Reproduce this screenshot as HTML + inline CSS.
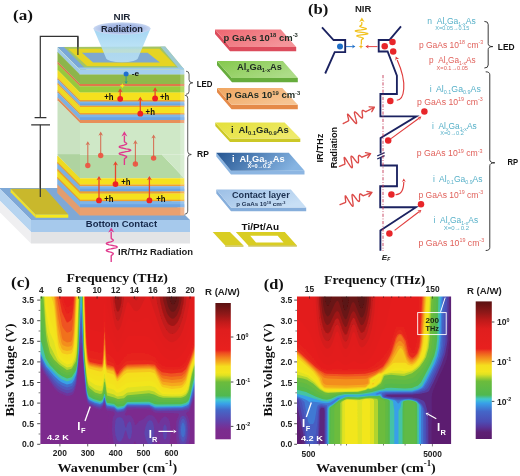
<!DOCTYPE html>
<html><head><meta charset="utf-8"><title>Figure</title><style>html,body{margin:0;padding:0;background:#fff}svg{display:block}</style></head><body><svg width="520" height="476" viewBox="0 0 520 476"><defs><linearGradient id="cone" x1="0" y1="0" x2="0" y2="1"><stop offset="0" stop-color="#9fd3f2" stop-opacity="0.95"/><stop offset="1" stop-color="#bfe6f7" stop-opacity="0.8"/></linearGradient><radialGradient id="conetop" cx="0.5" cy="0.5" r="0.5"><stop offset="0" stop-color="#9aaee0"/><stop offset="0.7" stop-color="#a9bce6"/><stop offset="1" stop-color="#c9d8f2"/></radialGradient><linearGradient id="g1" x1="0" y1="0" x2="1" y2="0.6"><stop offset="0" stop-color="#ee6670"/><stop offset="1" stop-color="#f4959a"/></linearGradient><linearGradient id="g2" x1="0" y1="0" x2="1" y2="0.6"><stop offset="0" stop-color="#84c84c"/><stop offset="1" stop-color="#addc88"/></linearGradient><linearGradient id="g3" x1="0" y1="0" x2="1" y2="0.6"><stop offset="0" stop-color="#f0a660"/><stop offset="1" stop-color="#f6c492"/></linearGradient><linearGradient id="g4" x1="0" y1="0" x2="1" y2="0.6"><stop offset="0" stop-color="#e4e03a"/><stop offset="1" stop-color="#eeea6a"/></linearGradient><linearGradient id="g5" x1="0" y1="0" x2="1" y2="0.2"><stop offset="0" stop-color="#245592"/><stop offset="1" stop-color="#86b4e2"/></linearGradient><linearGradient id="g6" x1="0" y1="0" x2="1" y2="0.6"><stop offset="0" stop-color="#9cbfe6"/><stop offset="1" stop-color="#c8dff5"/></linearGradient><filter id="soft" x="-5%" y="-5%" width="110%" height="110%"><feGaussianBlur stdDeviation="0.7"/></filter><clipPath id="cc"><rect x="40.4" y="296.4" width="154.2" height="147.6"/></clipPath><clipPath id="cd"><rect x="297" y="296.4" width="154.1" height="147.6"/></clipPath><linearGradient id="cbc" x1="0" y1="0" x2="0" y2="1"><stop offset="0.000" stop-color="#5a1212"/><stop offset="0.080" stop-color="#8e1818"/><stop offset="0.140" stop-color="#c01a1a"/><stop offset="0.200" stop-color="#e01e1e"/><stop offset="0.345" stop-color="#e8201e"/><stop offset="0.365" stop-color="#ee4a20"/><stop offset="0.400" stop-color="#f2801e"/><stop offset="0.435" stop-color="#f5b01e"/><stop offset="0.465" stop-color="#f5de1e"/><stop offset="0.510" stop-color="#f2e61e"/><stop offset="0.530" stop-color="#e0e222"/><stop offset="0.550" stop-color="#b0d42e"/><stop offset="0.580" stop-color="#6cbc3c"/><stop offset="0.680" stop-color="#50b850"/><stop offset="0.710" stop-color="#40c8d0"/><stop offset="0.740" stop-color="#38a0e8"/><stop offset="0.785" stop-color="#4468c8"/><stop offset="0.855" stop-color="#5a48b0"/><stop offset="0.900" stop-color="#70359c"/><stop offset="0.930" stop-color="#7b2c8e"/><stop offset="1.000" stop-color="#7d2a8c"/></linearGradient><linearGradient id="cbd" x1="0" y1="0" x2="0" y2="1"><stop offset="0.000" stop-color="#5a1212"/><stop offset="0.080" stop-color="#8e1818"/><stop offset="0.140" stop-color="#c01a1a"/><stop offset="0.200" stop-color="#e01e1e"/><stop offset="0.345" stop-color="#e8201e"/><stop offset="0.365" stop-color="#ee4a20"/><stop offset="0.400" stop-color="#f2801e"/><stop offset="0.435" stop-color="#f5b01e"/><stop offset="0.465" stop-color="#f5de1e"/><stop offset="0.510" stop-color="#f2e61e"/><stop offset="0.530" stop-color="#e0e222"/><stop offset="0.550" stop-color="#b0d42e"/><stop offset="0.580" stop-color="#6cbc3c"/><stop offset="0.680" stop-color="#50b850"/><stop offset="0.710" stop-color="#40c8d0"/><stop offset="0.740" stop-color="#38a0e8"/><stop offset="0.800" stop-color="#4466c8"/><stop offset="0.875" stop-color="#4c4cb4"/><stop offset="0.915" stop-color="#583498"/><stop offset="0.950" stop-color="#5e2074"/><stop offset="1.000" stop-color="#5a1c6c"/></linearGradient></defs>
<rect width="520" height="476" fill="#fff"/>
<text transform="translate(13.00,19.60) translate(0.00,0) scale(1.1065,1)" font-family="Liberation Serif, serif" font-size="15.5" font-weight="bold" fill="#111" xml:space="preserve"><tspan>(a)</tspan></text>
<path d="M40.3,197 V124.8 M40.3,117.6 V36.4 H77.9 V55" fill="none" stroke="#333" stroke-width="1.2"/>
<path d="M34.6,117.6 H46.4 M31.2,124.8 H50" fill="none" stroke="#333" stroke-width="1.3"/>
<polygon points="-1.0,188.0 158.0,188.0 190.0,220.0 31.0,220.0" fill="#7ea8d6"/>
<polygon points="-1.0,188.0 31.0,220.0 31.0,232.0 -1.0,200.0" fill="#b6d4f0"/>
<polygon points="-1.0,200.0 31.0,232.0 31.0,243.6 -1.0,211.6" fill="#efeff1"/>
<polygon points="31.0,220.0 190.0,220.0 190.0,232.0 31.0,232.0" fill="#a6c9ec"/>
<polygon points="31.0,232.0 190.0,232.0 190.0,243.6 31.0,243.6" fill="#e3e4e6"/>
<polygon points="10.6,188.8 45.2,188.8 68.3,214.4 35.6,214.4" fill="#c9b82c"/>
<polygon points="35.6,214.4 68.3,214.4 68.3,217.8 35.6,217.8" fill="#f7e81c"/>
<polygon points="10.6,188.8 35.6,214.4 35.6,217.8 10.6,192.2" fill="#efe02a"/>
<path d="M40.3,197 V150" stroke="#333" stroke-width="1.2"/>
<polygon points="80.0,70.0 80.0,74.8 57.5,52.2 57.5,47.4" fill="#a4cfee"/>
<polygon points="80.0,74.5 80.0,84.3 57.5,61.7 57.5,51.9" fill="#8fb94a"/>
<polygon points="80.0,84.0 80.0,86.6 57.5,64.0 57.5,61.4" fill="#e0784a"/>
<polygon points="80.0,86.3 80.0,92.7 57.5,70.1 57.5,63.7" fill="#9acd3c"/>
<polygon points="80.0,92.4 80.0,100.3 57.5,77.7 57.5,69.8" fill="#f5e11e"/>
<polygon points="80.0,100.0 80.0,101.9 57.5,79.3 57.5,77.4" fill="#f0a030"/>
<polygon points="80.0,101.6 80.0,105.7 57.5,83.1 57.5,79.0" fill="#7eb4e8"/>
<polygon points="80.0,105.4 80.0,107.3 57.5,84.7 57.5,82.8" fill="#f0a030"/>
<polygon points="80.0,107.0 80.0,113.2 57.5,90.6 57.5,84.4" fill="#f5e11e"/>
<polygon points="80.0,112.9 80.0,114.9 57.5,92.3 57.5,90.3" fill="#f0a030"/>
<polygon points="80.0,114.6 80.0,120.3 57.5,97.7 57.5,92.0" fill="#7eb4e8"/>
<polygon points="80.0,120.0 80.0,123.2 57.5,100.6 57.5,97.4" fill="#e8905a"/>
<polygon points="80.0,122.9 80.0,178.6 57.5,156.0 57.5,100.3" fill="#cfe8c7"/>
<polygon points="80.0,178.3 80.0,184.8 57.5,162.2 57.5,155.7" fill="#f5e11e"/>
<polygon points="80.0,184.5 80.0,186.5 57.5,163.9 57.5,161.9" fill="#f0a030"/>
<polygon points="80.0,186.2 80.0,191.6 57.5,169.0 57.5,163.6" fill="#7eb4e8"/>
<polygon points="80.0,191.3 80.0,193.7 57.5,171.1 57.5,168.7" fill="#f0a030"/>
<polygon points="80.0,193.4 80.0,200.0 57.5,177.4 57.5,170.8" fill="#f5e11e"/>
<polygon points="80.0,199.7 80.0,201.6 57.5,179.0 57.5,177.1" fill="#f0a030"/>
<polygon points="80.0,201.3 80.0,207.5 57.5,184.9 57.5,178.7" fill="#7eb4e8"/>
<polygon points="80.0,207.2 80.0,215.6 57.5,193.0 57.5,184.6" fill="#e9a070"/>
<polygon points="57.5,154.6 161.8,154.6 184.3,178.3 80.0,178.3" fill="#b4d9a4"/>
<polygon points="57.5,154.6 80.0,154.6 80.0,178.3" fill="#b4d9a4"/>
<polygon points="80.0,178.3 80.0,184.8 57.5,162.2 57.5,155.7" fill="#f5e11e"/>
<polygon points="80.0,184.5 80.0,186.5 57.5,163.9 57.5,161.9" fill="#f0a030"/>
<polygon points="80.0,186.2 80.0,191.6 57.5,169.0 57.5,163.6" fill="#7eb4e8"/>
<polygon points="80.0,191.3 80.0,193.7 57.5,171.1 57.5,168.7" fill="#f0a030"/>
<polygon points="80.0,193.4 80.0,200.0 57.5,177.4 57.5,170.8" fill="#f5e11e"/>
<polygon points="80.0,199.7 80.0,201.6 57.5,179.0 57.5,177.1" fill="#f0a030"/>
<polygon points="80.0,201.3 80.0,207.5 57.5,184.9 57.5,178.7" fill="#7eb4e8"/>
<polygon points="80.0,207.2 80.0,215.6 57.5,193.0 57.5,184.6" fill="#e9a070"/>
<polygon points="80.0,70.0 80.0,215.3 57.5,192.7 57.5,47.4" fill="#6a7a6a" opacity="0.05"/>
<polygon points="80.0,70.0 184.3,70.0 184.3,74.8 80.0,74.8" fill="#a4cfee"/>
<polygon points="80.0,74.5 184.3,74.5 184.3,84.3 80.0,84.3" fill="#8fb94a"/>
<polygon points="80.0,84.0 184.3,84.0 184.3,86.6 80.0,86.6" fill="#e0784a"/>
<polygon points="80.0,86.3 184.3,86.3 184.3,92.7 80.0,92.7" fill="#9acd3c"/>
<polygon points="80.0,92.4 184.3,92.4 184.3,100.3 80.0,100.3" fill="#f5e11e"/>
<polygon points="80.0,100.0 184.3,100.0 184.3,101.9 80.0,101.9" fill="#f0a030"/>
<polygon points="80.0,101.6 184.3,101.6 184.3,105.7 80.0,105.7" fill="#7eb4e8"/>
<polygon points="80.0,105.4 184.3,105.4 184.3,107.3 80.0,107.3" fill="#f0a030"/>
<polygon points="80.0,107.0 184.3,107.0 184.3,113.2 80.0,113.2" fill="#f5e11e"/>
<polygon points="80.0,112.9 184.3,112.9 184.3,114.9 80.0,114.9" fill="#f0a030"/>
<polygon points="80.0,114.6 184.3,114.6 184.3,120.3 80.0,120.3" fill="#7eb4e8"/>
<polygon points="80.0,120.0 184.3,120.0 184.3,123.2 80.0,123.2" fill="#e8905a"/>
<polygon points="80.0,122.9 184.3,122.9 184.3,154.6 161.8,154.6 80.0,154.6" fill="#cfe8c7"/>
<polygon points="80.0,122.9 184.3,122.9 184.3,178.3 80.0,178.3" fill="#cfe8c7" opacity="0.0"/>
<polygon points="161.8,154.6 184.3,154.6 184.3,178.3" fill="#cfe8c7"/>
<polygon points="80.0,178.3 184.3,178.3 184.3,184.8 80.0,184.8" fill="#f5e11e"/>
<polygon points="80.0,184.5 184.3,184.5 184.3,186.5 80.0,186.5" fill="#f0a030"/>
<polygon points="80.0,186.2 184.3,186.2 184.3,191.6 80.0,191.6" fill="#7eb4e8"/>
<polygon points="80.0,191.3 184.3,191.3 184.3,193.7 80.0,193.7" fill="#f0a030"/>
<polygon points="80.0,193.4 184.3,193.4 184.3,200.0 80.0,200.0" fill="#f5e11e"/>
<polygon points="80.0,199.7 184.3,199.7 184.3,201.6 80.0,201.6" fill="#f0a030"/>
<polygon points="80.0,201.3 184.3,201.3 184.3,207.5 80.0,207.5" fill="#7eb4e8"/>
<polygon points="80.0,207.2 184.3,207.2 184.3,215.6 80.0,215.6" fill="#e9a070"/>
<polygon points="80.0,103.5 184.3,103.5 184.3,105.4 80.0,105.4" fill="#5c98dc" opacity="0.55"/>
<polygon points="80.0,117.3 184.3,117.3 184.3,120.0 80.0,120.0" fill="#5c98dc" opacity="0.55"/>
<polygon points="80.0,188.8 184.3,188.8 184.3,191.3 80.0,191.3" fill="#5c98dc" opacity="0.55"/>
<polygon points="80.0,204.2 184.3,204.2 184.3,207.2 80.0,207.2" fill="#5c98dc" opacity="0.55"/>
<polygon points="180.3,70.0 184.3,70.0 184.3,215.3 180.3,215.3" fill="#ffffff" opacity="0.22"/>
<polygon points="80.0,69.6 184.3,69.6 165.2,46.6 57.5,47.0" fill="#a3c465"/>
<polygon points="80.0,69.6 86.3,69.6 64.0,47.0 57.5,47.0" fill="#79a7d8"/>
<polygon points="80.0,69.6 184.3,69.6 182.6,67.5 78.0,67.6" fill="#9ccaec"/>
<polygon points="179.6,69.6 184.3,69.6 165.2,46.6 160.4,46.6" fill="#9ccaec" opacity="0.8"/>
<polygon points="87.0,66.1 176.0,66.1 159.4,48.8 68.1,48.8" fill="#e6d422"/>
<polygon points="93.1,62.5 160.0,62.5 147.6,52.7 81.9,52.7" fill="#7fa8cf"/>
<path d="M77.9,36.4 V55" stroke="#333" stroke-width="1.2"/>
<path d="M93.5,28.5 L106,58 A16,4.2 0 0 0 138,58 L150.5,28.5 Z" fill="url(#cone)"/>
<ellipse cx="122" cy="28.5" rx="28.5" ry="6.2" fill="url(#conetop)"/>
<text transform="translate(122.00,20.40) translate(-8.50,0) scale(1.0744,1)" font-family="Liberation Sans, sans-serif" font-size="9.2" font-weight="bold" fill="#1c2433" xml:space="preserve"><tspan>NIR</tspan></text>
<text transform="translate(122.00,32.00) translate(-21.00,0) scale(1.0035,1)" font-family="Liberation Sans, sans-serif" font-size="9.2" font-weight="bold" fill="#1c2433" xml:space="preserve"><tspan>Radiation</tspan></text>
<circle cx="126.1" cy="73.9" r="2.5" fill="#1f6fd0"/>
<path d="M126.1,76.5 V82" stroke="#2a9a8a" stroke-width="0.9"/><polygon points="126.1,84.0 124.4,81.1 126.1,82.0 127.8,81.1" fill="#2a9a8a"/>
<text transform="translate(131.80,76.20) translate(0.00,0) scale(1.1096,1)" font-family="Liberation Sans, sans-serif" font-size="7.5" font-weight="bold" fill="#111" xml:space="preserve"><tspan>-e</tspan></text>
<path d="M122.3,83.2 L123.1,85 L125,85.7 L123.1,86.4 L122.3,88.2 L121.5,86.4 L119.6,85.7 L121.5,85 Z" fill="#ffe21a"/>
<g><path d="M120.2,98.8 V89.8" stroke="#e8452c" stroke-width="1.3" fill="none"/><polygon points="120.2,88.3 122.7,92.6 120.2,91.3 117.7,92.6" fill="#e8452c"/></g>
<circle cx="120.2" cy="98.8" r="2.9" fill="#ee2222"/>
<text transform="translate(104.30,99.90) translate(0.00,0) scale(0.9507,1)" font-family="Liberation Sans, sans-serif" font-size="8.2" font-weight="bold" fill="#111" xml:space="preserve"><tspan>+h</tspan></text>
<g><path d="M155.1,98.4 V88.7" stroke="#e8452c" stroke-width="1.3" fill="none"/><polygon points="155.1,87.2 157.6,91.5 155.1,90.2 152.6,91.5" fill="#e8452c"/></g>
<circle cx="155.1" cy="98.4" r="2.9" fill="#ee2222"/>
<text transform="translate(160.00,99.50) translate(0.00,0) scale(0.9507,1)" font-family="Liberation Sans, sans-serif" font-size="8.2" font-weight="bold" fill="#111" xml:space="preserve"><tspan>+h</tspan></text>
<g><path d="M140.3,113.7 V98.2" stroke="#e8452c" stroke-width="1.3" fill="none"/><polygon points="140.3,96.7 142.8,101.0 140.3,99.7 137.8,101.0" fill="#e8452c"/></g>
<circle cx="140.3" cy="113.7" r="2.9" fill="#ee2222"/>
<text transform="translate(145.60,114.80) translate(0.00,0) scale(0.9507,1)" font-family="Liberation Sans, sans-serif" font-size="8.2" font-weight="bold" fill="#111" xml:space="preserve"><tspan>+h</tspan></text>
<g opacity="0.8"><path d="M87.8,165.5 V142.7" stroke="#d8563c" stroke-width="1.1" fill="none"/><polygon points="87.8,141.2 90.1,145.3 87.8,144.0 85.5,145.3" fill="#d8563c"/></g>
<circle cx="87.8" cy="165.5" r="2.7" fill="#ee5240" opacity="0.92"/>
<g opacity="0.8"><path d="M100.7,155.5 V133.1" stroke="#d8563c" stroke-width="1.1" fill="none"/><polygon points="100.7,131.6 103.0,135.7 100.7,134.4 98.4,135.7" fill="#d8563c"/></g>
<circle cx="100.7" cy="155.5" r="2.7" fill="#ee5240" opacity="0.92"/>
<g opacity="0.8"><path d="M135.4,164 V141.6" stroke="#d8563c" stroke-width="1.1" fill="none"/><polygon points="135.4,140.1 137.7,144.2 135.4,142.9 133.1,144.2" fill="#d8563c"/></g>
<circle cx="135.4" cy="164" r="2.7" fill="#ee5240" opacity="0.92"/>
<g opacity="0.8"><path d="M153.6,158.1 V135.9" stroke="#d8563c" stroke-width="1.1" fill="none"/><polygon points="153.6,134.4 155.9,138.5 153.6,137.2 151.3,138.5" fill="#d8563c"/></g>
<circle cx="153.6" cy="158.1" r="2.7" fill="#ee5240" opacity="0.92"/>
<g><path d="M115.5,184 V162.8" stroke="#e8452c" stroke-width="1.3" fill="none"/><polygon points="115.5,161.3 118.0,165.6 115.5,164.3 113.0,165.6" fill="#e8452c"/></g>
<circle cx="115.5" cy="184.1" r="2.9" fill="#ee2222"/>
<text transform="translate(121.30,185.30) translate(0.00,0) scale(0.9507,1)" font-family="Liberation Sans, sans-serif" font-size="8.2" font-weight="bold" fill="#111" xml:space="preserve"><tspan>+h</tspan></text>
<g><path d="M99,200.4 V177.5" stroke="#e8452c" stroke-width="1.3" fill="none"/><polygon points="99.0,176.0 101.5,180.3 99.0,179.0 96.5,180.3" fill="#e8452c"/></g>
<circle cx="99" cy="200.4" r="2.9" fill="#ee2222"/>
<text transform="translate(104.30,202.00) translate(0.00,0) scale(0.9507,1)" font-family="Liberation Sans, sans-serif" font-size="8.2" font-weight="bold" fill="#111" xml:space="preserve"><tspan>+h</tspan></text>
<g><path d="M149.4,200.4 V177.5" stroke="#e8452c" stroke-width="1.3" fill="none"/><polygon points="149.4,176.0 151.9,180.3 149.4,179.0 146.9,180.3" fill="#e8452c"/></g>
<circle cx="149.4" cy="200.4" r="2.9" fill="#ee2222"/>
<text transform="translate(156.20,202.00) translate(0.00,0) scale(0.9507,1)" font-family="Liberation Sans, sans-serif" font-size="8.2" font-weight="bold" fill="#111" xml:space="preserve"><tspan>+h</tspan></text>
<path d="M124.4,165.0 L124.4,164.6 L124.4,164.3 L124.4,163.9 L124.4,163.5 L124.4,163.2 L124.4,162.8 L124.4,162.4 L124.4,162.1 L124.4,161.7 L124.4,161.3 L124.4,160.9 L124.4,160.6 L124.4,160.2 L124.4,159.8 L124.4,159.5 L124.4,159.1 L124.5,158.7 L124.9,158.4 L125.4,158.0 L126.0,157.6 L126.5,157.3 L126.7,156.9 L126.5,156.5 L126.0,156.2 L125.1,155.8 L123.9,155.4 L122.5,155.0 L121.2,154.7 L120.1,154.3 L119.4,153.9 L119.2,153.6 L119.6,153.2 L120.6,152.8 L122.1,152.5 L124.0,152.1 L126.0,151.7 L127.9,151.4 L129.4,151.0 L130.4,150.6 L130.8,150.2 L130.4,149.9 L129.4,149.5 L127.9,149.1 L126.0,148.8 L124.0,148.4 L122.1,148.0 L120.6,147.7 L119.6,147.3 L119.2,146.9 L119.4,146.6 L120.1,146.2 L121.2,145.8 L122.5,145.5 L123.9,145.1 L125.1,144.7 L126.0,144.3 L126.5,144.0 L126.7,143.6 L126.5,143.2 L126.0,142.9 L125.4,142.5 L124.9,142.1 L124.5,141.8 L124.4,141.4 L124.4,141.0 L124.4,140.7 L124.4,140.3 L124.4,139.9 L124.4,139.6 L124.4,139.2 L124.4,138.8 L124.4,138.4 L124.4,138.1 L124.4,137.7 L124.4,137.3 L124.4,137.0 L124.4,136.6 L124.4,136.2 L124.4,135.9 L124.4,135.5" fill="none" stroke="#e0388c" stroke-width="1.35" stroke-linejoin="round"/><polygon points="124.4,131.2 127.4,136.4 124.4,134.8 121.4,136.4" fill="#e0388c"/>
<path d="M186,71.2 Q189.06,71.2 189.06,74.2 V79.8 Q189.06,82.8 192.8,82.8 Q189.06,82.8 189.06,85.8 V91.3 Q189.06,94.3 186,94.3" fill="none" stroke="#333" stroke-width="0.8"/>
<path d="M184.8,95.2 Q187.72500000000002,95.2 187.72500000000002,98.2 V151.5 Q187.72500000000002,154.5 191.3,154.5 Q187.72500000000002,154.5 187.72500000000002,157.5 V211.2 Q187.72500000000002,214.2 184.8,214.2" fill="none" stroke="#333" stroke-width="0.8"/>
<text transform="translate(196.70,86.60) translate(0.00,0) scale(0.8777,1)" font-family="Liberation Sans, sans-serif" font-size="9" font-weight="bold" fill="#111" xml:space="preserve"><tspan>LED</tspan></text>
<text transform="translate(197.00,156.60) translate(0.00,0) scale(0.9438,1)" font-family="Liberation Sans, sans-serif" font-size="9" font-weight="bold" fill="#111" xml:space="preserve"><tspan>RP</tspan></text>
<text transform="translate(85.80,227.20) translate(0.00,0) scale(0.9906,1)" font-family="Liberation Sans, sans-serif" font-size="9.6" font-weight="bold" fill="#15284a" xml:space="preserve"><tspan>Bottom Contact</tspan></text>
<path d="M111.2,262.0 L111.2,261.6 L111.2,261.2 L111.2,260.9 L111.2,260.5 L111.2,260.1 L111.2,259.8 L111.2,259.4 L111.2,259.0 L111.2,258.6 L111.2,258.2 L111.2,257.9 L111.2,257.5 L111.2,257.1 L111.2,256.8 L111.2,256.4 L111.2,256.0 L111.3,255.6 L111.7,255.2 L112.2,254.9 L112.7,254.5 L113.1,254.1 L113.3,253.8 L113.2,253.4 L112.7,253.0 L111.9,252.6 L110.7,252.2 L109.5,251.9 L108.2,251.5 L107.2,251.1 L106.5,250.8 L106.3,250.4 L106.7,250.0 L107.7,249.6 L109.1,249.2 L110.8,248.9 L112.7,248.5 L114.5,248.1 L115.9,247.8 L116.9,247.4 L117.2,247.0 L116.9,246.6 L115.9,246.2 L114.5,245.9 L112.7,245.5 L110.8,245.1 L109.1,244.8 L107.7,244.4 L106.7,244.0 L106.3,243.6 L106.5,243.2 L107.2,242.9 L108.2,242.5 L109.5,242.1 L110.7,241.8 L111.9,241.4 L112.7,241.0 L113.2,240.6 L113.3,240.2 L113.1,239.9 L112.7,239.5 L112.2,239.1 L111.7,238.8 L111.3,238.4 L111.2,238.0 L111.2,237.6 L111.2,237.2 L111.2,236.9 L111.2,236.5 L111.2,236.1 L111.2,235.8 L111.2,235.4 L111.2,235.0 L111.2,234.6 L111.2,234.2 L111.2,233.9 L111.2,233.5 L111.2,233.1 L111.2,232.8 L111.2,232.4 L111.2,232.0" fill="none" stroke="#e0388c" stroke-width="1.35" stroke-linejoin="round"/><polygon points="111.2,227.4 114.2,232.6 111.2,231.0 108.2,232.6" fill="#e0388c"/>
<text transform="translate(118.00,255.40) translate(0.00,0) scale(0.9874,1)" font-family="Liberation Sans, sans-serif" font-size="9.6" font-weight="bold" fill="#222" xml:space="preserve"><tspan>IR/THz Radiation</tspan></text>
<polygon points="215.0,29.6 230.0,46.9 296.2,46.9 296.2,51.3 230.0,51.3 215.0,34.0" fill="#dc4c5c"/><polygon points="215.0,29.6 280.9,29.6 296.2,46.9 230.0,46.9" fill="url(#g1)"/>
<polygon points="217.0,60.9 232.0,77.9 297.8,77.9 297.8,82.3 232.0,82.3 217.0,65.3" fill="#66ac3c"/><polygon points="217.0,60.9 282.9,60.9 297.8,77.9 232.0,77.9" fill="url(#g2)"/>
<polygon points="217.0,87.9 231.6,104.8 297.8,104.8 297.8,109.2 231.6,109.2 217.0,92.3" fill="#e58a48"/><polygon points="217.0,87.9 282.3,87.9 297.8,104.8 231.6,104.8" fill="url(#g3)"/>
<polygon points="215.3,122.4 230.0,138.5 300.3,138.5 300.3,142.1 230.0,142.1 215.3,126.0" fill="#ccc826"/><polygon points="215.3,122.4 284.6,122.4 300.3,138.5 230.0,138.5" fill="url(#g4)"/>
<polygon points="216.3,152.8 231.0,170.7 304.5,170.7 304.5,174.5 231.0,174.5 216.3,156.6" fill="#8db6e2"/><polygon points="216.3,152.8 288.8,152.8 304.5,170.7 231.0,170.7" fill="url(#g5)"/>
<polygon points="216.3,189.6 231.0,207.4 306.2,207.4 306.2,211.2 231.0,211.2 216.3,193.4" fill="#86aedb"/><polygon points="216.3,189.6 290.9,189.6 306.2,207.4 231.0,207.4" fill="url(#g6)"/>
<text transform="translate(223.60,41.00) translate(0.00,0) scale(1.0284,1)" font-family="Liberation Sans, sans-serif" font-size="9.2" font-weight="bold" fill="#1e2a22" xml:space="preserve"><tspan>p GaAs 10</tspan><tspan font-size="5.70" dy="-3.68">18</tspan><tspan dy="3.68"> cm</tspan><tspan font-size="5.70" dy="-3.68">-3</tspan></text>
<text transform="translate(237.00,70.30) translate(0.00,0) scale(1.0074,1)" font-family="Liberation Sans, sans-serif" font-size="9.2" font-weight="bold" fill="#1e2a22" xml:space="preserve"><tspan>Al</tspan><tspan font-size="5.70" dy="2.02">x</tspan><tspan dy="-2.02">Ga</tspan><tspan font-size="5.70" dy="2.02">1-x</tspan><tspan dy="-2.02">As</tspan></text>
<text transform="translate(226.00,98.20) translate(0.00,0) scale(1.0284,1)" font-family="Liberation Sans, sans-serif" font-size="9.2" font-weight="bold" fill="#1e2a22" xml:space="preserve"><tspan>p GaAs 10</tspan><tspan font-size="5.70" dy="-3.68">19</tspan><tspan dy="3.68"> cm</tspan><tspan font-size="5.70" dy="-3.68">-3</tspan></text>
<text transform="translate(231.00,132.90) translate(0.00,0) scale(1.0263,1)" font-family="Liberation Sans, sans-serif" font-size="9.2" font-weight="bold" fill="#1e2a22" xml:space="preserve"><tspan>i  Al</tspan><tspan font-size="5.70" dy="2.02">0.1</tspan><tspan dy="-2.02">Ga</tspan><tspan font-size="5.70" dy="2.02">0.9</tspan><tspan dy="-2.02">As</tspan></text>
<text transform="translate(232.00,161.60) translate(0.00,0) scale(1.0137,1)" font-family="Liberation Sans, sans-serif" font-size="9.2" font-weight="bold" fill="#fff" xml:space="preserve"><tspan>i  Al</tspan><tspan font-size="5.70" dy="2.02">x</tspan><tspan dy="-2.02">Ga</tspan><tspan font-size="5.70" dy="2.02">1-x</tspan><tspan dy="-2.02">As</tspan></text>
<text transform="translate(247.40,168.00) translate(0.00,0)" font-family="Liberation Sans, sans-serif" font-size="5.6" font-weight="bold" fill="#fff" xml:space="preserve"><tspan>X=0→0.2</tspan></text>
<text transform="translate(232.00,198.00) translate(0.00,0) scale(0.9298,1)" font-family="Liberation Sans, sans-serif" font-size="9.8" font-weight="bold" fill="#1c3050" xml:space="preserve"><tspan>Contact layer</tspan></text>
<text transform="translate(236.30,205.80) translate(0.00,0) scale(1.1152,1)" font-family="Liberation Sans, sans-serif" font-size="5.6" font-weight="bold" fill="#1c3050" xml:space="preserve"><tspan>p GaAs 10</tspan><tspan font-size="3.47" dy="-2.24">18</tspan><tspan dy="2.24"> cm</tspan><tspan font-size="3.47" dy="-2.24">-3</tspan></text>
<text transform="translate(260.30,230.40) translate(-18.75,0) scale(1.0640,1)" font-family="Liberation Sans, sans-serif" font-size="9.4" font-weight="bold" fill="#111" xml:space="preserve"><tspan>Ti/Pt/Au</tspan></text>
<polygon points="212.7,231.9 230.0,231.9 243.5,245.6 225.2,245.6" fill="#d9cd22"/>
<polygon points="225.2,245.6 243.5,245.6 243.5,246.6 225.2,246.6" fill="#bcae18"/>
<path fill-rule="evenodd" fill="#d9cd22" d="M235.8,231.9 L284.8,231.9 L296.9,245.6 L248.3,245.6 Z M250.2,235.8 L277.7,235.8 L283.5,242.5 L256,242.5 Z"/>
<polygon points="248.3,245.6 296.9,245.6 296.9,246.6 248.3,246.6" fill="#bcae18"/>
<text transform="translate(308.00,13.80) translate(0.00,0) scale(1.0768,1)" font-family="Liberation Serif, serif" font-size="15.5" font-weight="bold" fill="#111" xml:space="preserve"><tspan>(b)</tspan></text>
<text transform="translate(363.20,12.20) translate(-8.20,0) scale(1.0806,1)" font-family="Liberation Sans, sans-serif" font-size="8.8" font-weight="bold" fill="#222" xml:space="preserve"><tspan>NIR</tspan></text>
<path d="M322,27.3 L333.6,40 H345.2 V52.1 H334.7 L325.2,73.5" fill="none" stroke="#1b2260" stroke-width="1.85" stroke-linejoin="miter"/>
<path d="M401,26.3 L389.4,40 H378.7 V51.5 H387.6 L396.9,75.6 V94 H380.4 V116.3 H416.4 L380.6,138 V153.4 M380.8,157.6 V165.5 H397 V186.2 H380.2 V207.2 H416 L380.4,230.5 V250.7" fill="none" stroke="#1b2260" stroke-width="1.85" stroke-linejoin="miter"/>
<path d="M377.2,156 L384.6,152.6 M377.2,159 L384.6,155.6" stroke="#1b2260" stroke-width="1.3"/>
<path d="M383,75 V251" stroke="#c43a58" stroke-width="0.9" stroke-dasharray="3.2,1.6,0.9,1.6" fill="none"/>
<text transform="translate(381.80,259.60) translate(0.00,0) scale(1.0901,1)" font-family="Liberation Sans, sans-serif" font-size="7.4" font-weight="bold" font-style="italic" fill="#222" xml:space="preserve"><tspan>E</tspan><tspan font-size="4.59" dy="1.63">F</tspan></text>
<circle cx="340" cy="46.6" r="3" fill="#1f6fc8"/>
<path d="M345.8,46.6 H353" stroke="#1f6fc8" stroke-width="0.9"/><polygon points="355.4,46.6 352.0,48.6 353.1,46.6 352.0,44.6" fill="#1f6fc8"/>
<path d="M361,44.2 L361.7,45.9 L363.4,46.6 L361.7,47.3 L361,49 L360.3,47.3 L358.6,46.6 L360.3,45.9 Z" fill="#f2b81a"/>
<path d="M377.5,46.6 H368" stroke="#e03030" stroke-width="0.9"/><polygon points="365.4,46.6 368.8,44.7 367.7,46.6 368.8,48.6" fill="#e03030"/>
<path d="M361.3,44.5 L361.3,44.2 L361.3,43.9 L361.3,43.7 L361.3,43.4 L361.3,43.1 L361.3,42.8 L361.3,42.5 L361.4,42.2 L361.4,42.0 L361.4,41.7 L361.4,41.4 L361.4,41.1 L361.4,40.8 L361.4,40.6 L361.4,40.3 L361.4,40.0 L361.5,39.7 L361.9,39.4 L362.4,39.2 L362.9,38.9 L363.3,38.6 L363.4,38.4 L363.1,38.1 L362.5,37.8 L361.5,37.5 L360.3,37.2 L359.0,36.9 L357.9,36.5 L357.1,36.2 L356.8,36.0 L357.0,35.7 L358.0,35.4 L359.4,35.2 L361.2,34.9 L363.3,34.7 L365.2,34.5 L366.7,34.2 L367.7,33.9 L367.9,33.7 L367.4,33.4 L366.1,33.1 L364.2,32.7 L362.0,32.4 L359.8,32.1 L357.7,31.8 L356.2,31.4 L355.4,31.1 L355.3,30.9 L356.0,30.6 L357.3,30.3 L359.1,30.1 L361.1,29.9 L363.0,29.6 L364.7,29.4 L365.8,29.1 L366.3,28.9 L366.3,28.6 L365.6,28.3 L364.6,28.0 L363.3,27.7 L362.1,27.4 L361.0,27.0 L360.2,26.7 L359.8,26.5 L359.8,26.2 L360.1,25.9 L360.5,25.6 L361.1,25.4 L361.5,25.1 L361.7,24.8 L361.7,24.5 L361.8,24.2 L361.8,24.0 L361.8,23.7 L361.8,23.4 L361.8,23.1 L361.8,22.8 L361.8,22.6 L361.8,22.3 L361.8,22.0" fill="none" stroke="#f2c21e" stroke-width="1.25" stroke-linejoin="round"/><polygon points="361.9,17.4 364.6,22.1 361.9,20.7 359.2,22.1" fill="#f2c21e"/>
<circle cx="384.7" cy="46.3" r="3.25" fill="#e8262a"/>
<circle cx="392.5" cy="42" r="3.25" fill="#e8262a"/>
<circle cx="393.2" cy="51.5" r="3.25" fill="#e8262a"/>
<circle cx="390.3" cy="101.1" r="3.25" fill="#e8262a"/>
<circle cx="424.4" cy="111.4" r="3.25" fill="#e8262a"/>
<circle cx="388.2" cy="140.4" r="3.25" fill="#e8262a"/>
<circle cx="391.4" cy="194.5" r="3.25" fill="#e8262a"/>
<circle cx="421" cy="204.3" r="3.25" fill="#e8262a"/>
<circle cx="389.4" cy="233.5" r="3.25" fill="#e8262a"/>
<path d="M396.8,100.2 C404,100 408,84 397.2,60" fill="none" stroke="#e03c3c" stroke-width="1.15"/><polygon points="395.7,56.6 399.1,59.0 396.7,58.9 395.3,60.7" fill="#e03c3c"/>
<path d="M391,138.6 L419,118.3" fill="none" stroke="#e03c3c" stroke-width="1.15"/><polygon points="421.4,116.6 419.7,120.4 419.4,118.1 417.3,117.0" fill="#e03c3c"/>
<path d="M394.6,230.4 L419,211.8" fill="none" stroke="#e03c3c" stroke-width="1.15"/><polygon points="421.4,210.0 419.8,213.8 419.4,211.5 417.3,210.5" fill="#e03c3c"/>
<path d="M395.6,194.6 C401,195 403.6,190 403.8,182" fill="none" stroke="#e03c3c" stroke-width="1.15"/><polygon points="403.8,178.6 405.8,182.0 403.8,180.9 401.9,182.0" fill="#e03c3c"/>
<path d="M343.2,123.6 L343.5,123.4 L343.9,123.2 L344.2,123.1 L344.6,122.9 L344.9,122.7 L345.3,122.5 L345.6,122.3 L346.0,122.1 L346.3,122.0 L346.7,121.8 L347.0,121.6 L347.4,121.4 L347.7,121.2 L348.1,121.0 L348.4,120.9 L348.7,120.5 L348.6,119.6 L348.3,118.1 L347.9,116.5 L347.6,115.1 L347.5,114.1 L348.0,114.3 L349.1,115.5 L350.3,117.0 L351.7,118.7 L353.0,120.3 L354.2,121.8 L355.2,122.9 L356.0,123.5 L356.4,123.6 L356.6,123.1 L356.6,122.1 L356.3,120.8 L355.9,119.1 L355.4,117.4 L355.0,115.7 L354.6,114.2 L354.4,113.0 L354.5,112.2 L354.7,111.9 L355.2,112.0 L356.0,112.5 L356.8,113.3 L357.8,114.3 L358.8,115.4 L359.8,116.4 L360.7,117.2 L361.4,117.8 L362.0,118.0 L362.3,117.9 L362.5,117.4 L362.6,116.7 L362.5,115.7 L362.4,114.6 L362.2,113.5 L362.1,112.4 L362.1,111.5 L362.2,110.9 L362.4,110.4 L362.7,110.3 L363.2,110.3 L363.8,110.6 L364.4,111.0 L365.1,111.4 L365.7,111.8 L366.1,111.6 L366.4,111.4 L366.8,111.2 L367.1,111.0 L367.5,110.8 L367.8,110.7 L368.2,110.5 L368.5,110.3 L368.9,110.1 L369.2,109.9 L369.5,109.8 L369.9,109.6 L370.2,109.4 L370.6,109.2 L370.9,109.0 L371.3,108.8 L371.6,108.7 L372.0,108.5 L372.3,108.3 L372.7,108.1 L373.0,107.9 L373.4,107.7 L373.7,107.6 L374.1,107.4 L374.4,107.2 M371.8,111.7 L374.4,107.2 L369.2,106.8" fill="none" stroke="#dc4a48" stroke-width="1.35" stroke-linejoin="round" stroke-linecap="round"/>
<path d="M339.4,166.4 L339.7,166.3 L340.1,166.1 L340.4,166.0 L340.8,165.8 L341.1,165.7 L341.5,165.5 L341.8,165.4 L342.2,165.3 L342.5,165.1 L342.9,165.0 L343.2,164.8 L343.6,164.7 L343.9,164.6 L344.3,164.4 L344.6,164.3 L344.9,163.9 L344.9,163.0 L344.7,161.6 L344.4,159.9 L344.2,158.5 L344.2,157.5 L344.8,157.7 L345.7,159.0 L346.8,160.6 L347.9,162.5 L349.0,164.2 L350.1,165.8 L351.0,167.0 L351.7,167.7 L352.1,167.8 L352.3,167.4 L352.4,166.4 L352.2,165.0 L351.9,163.4 L351.6,161.6 L351.3,159.9 L351.1,158.3 L351.0,157.1 L351.1,156.4 L351.4,156.1 L351.8,156.3 L352.5,156.8 L353.3,157.7 L354.1,158.8 L355.0,160.0 L355.9,161.1 L356.6,162.0 L357.3,162.7 L357.8,162.9 L358.2,162.9 L358.4,162.4 L358.5,161.7 L358.5,160.7 L358.5,159.6 L358.4,158.5 L358.4,157.4 L358.4,156.5 L358.6,155.9 L358.8,155.5 L359.2,155.3 L359.6,155.5 L360.2,155.8 L360.7,156.2 L361.4,156.8 L361.9,157.2 L362.3,157.0 L362.6,156.9 L363.0,156.7 L363.3,156.6 L363.7,156.4 L364.0,156.3 L364.4,156.2 L364.7,156.0 L365.1,155.9 L365.4,155.7 L365.7,155.6 L366.1,155.4 L366.4,155.3 L366.8,155.2 L367.1,155.0 L367.5,154.9 L367.8,154.7 L368.2,154.6 L368.5,154.5 L368.9,154.3 L369.2,154.2 L369.6,154.0 L369.9,153.9 L370.3,153.7 L370.6,153.6 M367.6,157.8 L370.6,153.6 L365.5,152.7" fill="none" stroke="#dc4a48" stroke-width="1.35" stroke-linejoin="round" stroke-linecap="round"/>
<path d="M340.0,204.6 L340.4,204.5 L340.7,204.3 L341.1,204.2 L341.4,204.1 L341.8,203.9 L342.1,203.8 L342.5,203.7 L342.8,203.5 L343.2,203.4 L343.6,203.2 L343.9,203.1 L344.3,203.0 L344.6,202.8 L345.0,202.7 L345.3,202.6 L345.6,202.3 L345.7,201.3 L345.5,199.9 L345.3,198.2 L345.2,196.7 L345.2,195.8 L345.7,196.0 L346.6,197.3 L347.6,199.0 L348.7,200.8 L349.8,202.6 L350.8,204.2 L351.7,205.4 L352.4,206.1 L352.8,206.3 L353.1,205.8 L353.1,204.9 L353.0,203.5 L352.8,201.8 L352.5,200.0 L352.3,198.3 L352.1,196.8 L352.0,195.6 L352.1,194.8 L352.4,194.5 L352.9,194.7 L353.5,195.3 L354.3,196.2 L355.1,197.3 L356.0,198.5 L356.8,199.6 L357.6,200.6 L358.3,201.2 L358.8,201.5 L359.2,201.4 L359.4,201.0 L359.5,200.3 L359.6,199.3 L359.5,198.2 L359.5,197.0 L359.5,196.0 L359.6,195.1 L359.7,194.4 L360.0,194.0 L360.4,193.9 L360.8,194.0 L361.4,194.4 L361.9,194.9 L362.6,195.4 L363.1,195.8 L363.5,195.7 L363.8,195.5 L364.2,195.4 L364.5,195.2 L364.9,195.1 L365.2,195.0 L365.6,194.8 L366.0,194.7 L366.3,194.6 L366.7,194.4 L367.0,194.3 L367.4,194.2 L367.7,194.0 L368.1,193.9 L368.4,193.8 L368.8,193.6 L369.2,193.5 L369.5,193.3 L369.9,193.2 L370.2,193.1 L370.6,192.9 L370.9,192.8 L371.3,192.7 L371.6,192.5 L372.0,192.4 M368.9,196.5 L372.0,192.4 L366.9,191.4" fill="none" stroke="#dc4a48" stroke-width="1.35" stroke-linejoin="round" stroke-linecap="round"/>
<text transform="translate(323.20,148.00) rotate(-90) translate(-14.50,0) scale(1.0579,1)" font-family="Liberation Sans, sans-serif" font-size="8.8" font-weight="bold" fill="#111" xml:space="preserve"><tspan>IR/THz</tspan></text>
<text transform="translate(337.20,147.50) rotate(-90) translate(-20.75,0) scale(1.0337,1)" font-family="Liberation Sans, sans-serif" font-size="8.8" font-weight="bold" fill="#111" xml:space="preserve"><tspan>Radiation</tspan></text>
<text transform="translate(427.20,24.00) translate(0.00,0) scale(0.9100,1)" font-family="Liberation Sans, sans-serif" font-size="9.4" fill="#56b0c8" xml:space="preserve"><tspan>n  </tspan><tspan>Al</tspan><tspan font-size="5.83" dy="2.07">x</tspan><tspan dy="-2.07">Ga</tspan><tspan font-size="5.83" dy="2.07">1-x</tspan><tspan dy="-2.07">As</tspan></text>
<text transform="translate(435.30,30.30) translate(0.00,0) scale(1.0669,1)" font-family="Liberation Sans, sans-serif" font-size="5.2" fill="#56b0c8" xml:space="preserve"><tspan>X=0.05→0.15</tspan></text>
<text transform="translate(418.90,47.90) translate(0.00,0) scale(0.9052,1)" font-family="Liberation Sans, sans-serif" font-size="9.4" fill="#e0605a" xml:space="preserve"><tspan>p GaAs 10</tspan><tspan font-size="5.83" dy="-3.76">18</tspan><tspan dy="3.76"> cm</tspan><tspan font-size="5.83" dy="-3.76">-3</tspan></text>
<text transform="translate(429.00,63.00) translate(0.00,0) scale(0.8762,1)" font-family="Liberation Sans, sans-serif" font-size="9.4" fill="#e0605a" xml:space="preserve"><tspan>p  </tspan><tspan>Al</tspan><tspan font-size="5.83" dy="2.07">x</tspan><tspan dy="-2.07">Ga</tspan><tspan font-size="5.83" dy="2.07">1-x</tspan><tspan dy="-2.07">As</tspan></text>
<text transform="translate(436.60,70.00) translate(0.00,0) scale(1.0834,1)" font-family="Liberation Sans, sans-serif" font-size="5.2" fill="#e0605a" xml:space="preserve"><tspan>X=0.1→0.05</tspan></text>
<text transform="translate(429.70,92.00) translate(0.00,0) scale(0.9321,1)" font-family="Liberation Sans, sans-serif" font-size="9.4" fill="#56b0c8" xml:space="preserve"><tspan>i  Al</tspan><tspan font-size="5.83" dy="2.07">0.1</tspan><tspan dy="-2.07">Ga</tspan><tspan font-size="5.83" dy="2.07">0.9</tspan><tspan dy="-2.07">As</tspan></text>
<text transform="translate(417.00,104.60) translate(0.00,0) scale(0.9249,1)" font-family="Liberation Sans, sans-serif" font-size="9.4" fill="#e0605a" xml:space="preserve"><tspan>p GaAs 10</tspan><tspan font-size="5.83" dy="-3.76">19</tspan><tspan dy="3.76"> cm</tspan><tspan font-size="5.83" dy="-3.76">-3</tspan></text>
<text transform="translate(432.00,128.50) translate(0.00,0) scale(0.8910,1)" font-family="Liberation Sans, sans-serif" font-size="9.4" fill="#56b0c8" xml:space="preserve"><tspan>i  </tspan><tspan>Al</tspan><tspan font-size="5.83" dy="2.07">x</tspan><tspan dy="-2.07">Ga</tspan><tspan font-size="5.83" dy="2.07">1-x</tspan><tspan dy="-2.07">As</tspan></text>
<text transform="translate(440.30,135.20) translate(0.00,0) scale(1.0839,1)" font-family="Liberation Sans, sans-serif" font-size="5.2" fill="#56b0c8" xml:space="preserve"><tspan>X=0→0.2</tspan></text>
<text transform="translate(416.80,156.40) translate(0.00,0) scale(0.9235,1)" font-family="Liberation Sans, sans-serif" font-size="9.4" fill="#e0605a" xml:space="preserve"><tspan>p GaAs 10</tspan><tspan font-size="5.83" dy="-3.76">19</tspan><tspan dy="3.76"> cm</tspan><tspan font-size="5.83" dy="-3.76">-3</tspan></text>
<text transform="translate(433.00,182.30) translate(0.00,0) scale(0.9028,1)" font-family="Liberation Sans, sans-serif" font-size="9.4" fill="#56b0c8" xml:space="preserve"><tspan>i  Al</tspan><tspan font-size="5.83" dy="2.07">0.1</tspan><tspan dy="-2.07">Ga</tspan><tspan font-size="5.83" dy="2.07">0.9</tspan><tspan dy="-2.07">As</tspan></text>
<text transform="translate(418.50,198.00) translate(0.00,0) scale(0.9081,1)" font-family="Liberation Sans, sans-serif" font-size="9.4" fill="#e0605a" xml:space="preserve"><tspan>p GaAs 10</tspan><tspan font-size="5.83" dy="-3.76">19</tspan><tspan dy="3.76"> cm</tspan><tspan font-size="5.83" dy="-3.76">-3</tspan></text>
<text transform="translate(433.60,222.60) translate(0.00,0) scale(0.8870,1)" font-family="Liberation Sans, sans-serif" font-size="9.4" fill="#56b0c8" xml:space="preserve"><tspan>i  </tspan><tspan>Al</tspan><tspan font-size="5.83" dy="2.07">x</tspan><tspan dy="-2.07">Ga</tspan><tspan font-size="5.83" dy="2.07">1-x</tspan><tspan dy="-2.07">As</tspan></text>
<text transform="translate(443.70,230.30) translate(0.00,0) scale(1.1620,1)" font-family="Liberation Sans, sans-serif" font-size="5.2" fill="#56b0c8" xml:space="preserve"><tspan>X=0→0.2</tspan></text>
<text transform="translate(418.50,245.50) translate(0.00,0) scale(0.9221,1)" font-family="Liberation Sans, sans-serif" font-size="9.4" fill="#e0605a" xml:space="preserve"><tspan>p GaAs 10</tspan><tspan font-size="5.83" dy="-3.76">19</tspan><tspan dy="3.76"> cm</tspan><tspan font-size="5.83" dy="-3.76">-3</tspan></text>
<path d="M484.4,21.4 Q488.17999999999995,21.4 488.17999999999995,24.4 V43.6 Q488.17999999999995,46.6 492.79999999999995,46.6 Q488.17999999999995,46.6 488.17999999999995,49.6 V65 Q488.17999999999995,68 484.4,68" fill="none" stroke="#222" stroke-width="0.9"/>
<path d="M485.7,71.8 Q489.795,71.8 489.795,74.8 V159.8 Q489.795,162.8 494.8,162.8 Q489.795,162.8 489.795,165.8 V247.5 Q489.795,250.5 485.7,250.5" fill="none" stroke="#222" stroke-width="0.9"/>
<text transform="translate(497.80,49.70) translate(0.00,0) scale(0.9388,1)" font-family="Liberation Sans, sans-serif" font-size="9" font-weight="bold" fill="#111" xml:space="preserve"><tspan>LED</tspan></text>
<text transform="translate(507.60,164.50) translate(0.00,0) scale(0.8478,1)" font-family="Liberation Sans, sans-serif" font-size="9" font-weight="bold" fill="#111" xml:space="preserve"><tspan>RP</tspan></text>
<g clip-path="url(#cc)"><g filter="url(#soft)"><rect x="36.0" y="292.0" width="163.0" height="156.0" fill="#7c2b8d"/>
<path fill="#7b2c8e" d="M37,292l162,0 0,101.6 -2,0.5 -2,3.9 -4.3,14 0.3,1.3 2,2 6,0.1 0,32.6 -89.9,0 -1.2,-16 0.2,-18 -2.1,-1.5 -1,-3.9 -1,-1.3 -0.6,1.7 -1.4,1.6 -2,1.3 -1,-0.1 -4,-1.2 -6,-3.1 -1.3,-1.5 -1.2,-3 -1.1,-5 -0.9,-8 -2.5,-32.4 -1,-6 -1,3.7 -1.4,17.7 -1.9,15 -2.3,7 -2.4,2.5 -5,1 -9,-3.9 -5.3,-5.6 -7.3,-11 -5.4,-9.4 -2,-1.8 -2,-0.2 0,-74.6z"/>
<path fill="#70359c" d="M37,292l162,0 0,99.1 -2,0.5 -1,1.5 -2,4.4 -4,11.8 -1,1.8 -2.9,1.9 0.1,1 2.6,5 1.2,8 -0.4,12 -1.9,9 -9.4,0 -0.6,-2 -1.3,-7 -0.5,-9 0.6,-9 2.4,-6 0.1,-1 -1,-0.8 -21,-0.4 -2,-0.3 -5,-2.9 -13,-0.4 -10,0.6 -2.2,4.2 0.2,1.1 1,0.6 3,-0.6 2,0.8 2.1,3.1 1.9,5.8 1,0.1 3,-3.6 4,-1.7 4,-3.6 2,-1.1 3,0.4 2.3,1.7 2.3,3 1.4,3.4 1,0.2 2.3,-4.6 2.7,-2.2 2,0 2,1.5 1.8,3.7 0.9,10 -0.9,10 -1.7,6 -6.4,0 -2.7,-7.4 -1,0.2 -2.2,7.2 -16.8,0 -1.5,-2 -2.5,-4.8 -1,1.3 -2.1,5.5 -16.4,0 -2.4,-8 -1.1,-10 0.5,-10 0.7,-3 1.8,-3 -0.3,-1 -0.7,-1.1 -1,-0.4 -6,-1.1 -1,-1.2 -1,-4.1 -1,-0.8 -2,3.7 -2,1.5 -1,-0.1 -4,-1.3 -5,-2.4 -2,-1.9 -0.8,-1.8 -1.7,-8 -3.5,-42.5 -1,-3.2 -1,2.8 -3.5,32.9 -2.5,8.7 -2,2.3 -5,1 -8,-3.4 -4,-3.5 -9,-13 -6,-10.1 -2,-1.7 -2,-0.2 0,-72.1z"/>
<path fill="#5c46ae" d="M37,292l162,0 0,96.2 -2,0.5 -1.9,3.3 -4.2,13 -1.9,3.9 -1,0.6 -6,1.3 -24,0.2 -3,-0.4 -4.6,-2.6 -1.4,-0.3 -21,-0.1 -1,0.3 -3,3.7 -6,1 -1,-0.1 -3,-2.7 -7,-1.1 -1,-1 -1,-4.6 -1,-0.5 -1,2.6 -3,2.5 -5,-1.2 -5,-2.5 -2,-1.9 -0.5,-1.1 -1.7,-8 -3.8,-45.6 -1,-5.4 -2,13.7 -1.7,19.3 -1.3,8.4 -2,6.4 -2,2.5 -5,1.1 -5,-1.9 -4,-2.2 -5,-5.4 -7,-10.2 -6,-10.4 -2,-1.7 -2,-0.2 0,-69.4zM182,415.9l2,0.1 2,2.2 1.2,3.8 0.6,6 -0.2,7 -1,6 -1.6,4 -1,1.2 -1,0.3 -1,-0.3 -1,-1.2 -1.3,-3 -1.1,-5 -0.4,-5 0.1,-6 0.7,-5 1.1,-3zM117,417.7l3,-0.6 2.1,0.9 1.8,3 1.1,5.4 1,1.6 1.2,-4 1.8,-2.6 1,0 1,1.5 0.8,4.1 0.2,5 -0.8,5 -1.2,2.3 -1,-0.2 -1,-1.5 -2,-7.3 -1,0.9 -1.6,5.8 -2.4,4.2 -2,0.6 -2,-2.1 -1.6,-4.7 -0.6,-7 0.6,-7 0.6,-2zM150,420l2,1 1,2 1,4 0.4,5 -0.3,5 -1.1,4.6 -1,2.1 -1,1.1 -1,0.3 -1.9,-1.1 -1.2,-2 -1.5,-4 -1,-5 0.8,-5 1.3,-4 1.5,-2.8zM165,424.5l1,0.9 0.6,1.6 0.6,5 -0.6,5 -0.6,1.8 -1,0.9 -1,-0.8 -0.7,-1.9 -0.6,-5 0.7,-5 0.6,-1.7z"/>
<path fill="#4f58bc" d="M37,292l162,0 0,92.6 -2,0.5 -2,3.8 -4.2,14.1 -1.8,4.2 -1.2,0.8 -5.8,1.5 -24,0.3 -3,-0.4 -4.4,-2.4 -1.6,-0.4 -21,-0.1 -1,0.3 -3,3.5 -3,0.9 -3,0.2 -1,-0.2 -3,-2.5 -7,-1.1 -1,-1.2 -1,-5 -1,-0.3 -1,2.9 -1,1.2 -2,1.3 -5,-1.3 -5,-2.4 -2,-2 -0.6,-1.8 -1.7,-9 -2.4,-28 -1.3,-23.3 -1,-8.4 -3.5,39.7 -1.5,10.5 -1,3.7 -1,2.4 -2,2.5 -4,1.2 -2,-0.2 -3,-1.2 -5,-2.8 -4,-4 -8,-10.8 -6,-11.2 -2,-1.7 -2,-0.2 0,-66.2zM183,418.7l1,0.4 1.5,2.9 1,8 -1,8 -1.3,3 -1.2,0.9 -1.2,-0.9 -1.3,-3 -1,-8 1,-8 1.5,-2.9zM150,428.3l1,1.4 0.2,2.3 -0.2,2.4 -1,1.5 -1,-1.2 -0.3,-2.7 0.3,-2.5z"/>
<path fill="#436ecc" d="M37,292l162,0 0,89 -2,0.5 -2,4 -4.6,16.5 -1.4,3.5 -2,1.4 -5,1.4 -24,0.4 -3,-0.3 -6,-2.8 -21,-0.1 -1,0.3 -3,3.5 -3,0.9 -3,0.2 -1,-0.2 -3,-2.5 -7,-1.1 -1,-1.5 -1,-5.3 -1,-0.2 -1,3.3 -1,1.2 -2,1.2 -5,-1.3 -5.8,-3 -1.2,-1.5 -1,-3.3 -1.3,-9.2 -2.2,-26 -1.5,-32.6 -1,-9.9 -2.9,43.5 -1.1,9.8 -2,9.3 -3,4.9 -5,1.4 -5,-1.9 -4,-2.6 -4,-4 -8,-10 -6,-11.9 -2,-1.8 -2,-0.2 0,-63zM183,422.6l1,0.9 0.5,1.5 0.7,5 -0.6,5 -0.6,1.6 -1,0.9 -1,-0.9 -0.6,-1.6 -0.6,-5 0.7,-5 0.5,-1.6z"/>
<path fill="#38a0e8" d="M37,292l162,0 0,85.4 -2,0.5 -2,4.2 -6,21.8 -2,1.6 -5,1.7 -24,0.4 -3,-0.2 -6,-2.7 -21,-0.2 -1,0.3 -3,3.5 -3,0.9 -3,0.2 -1,-0.2 -3,-2.5 -7,-1.1 -1,-1.8 -1,-5.7 -1,-0.1 -1,3.7 -1,1.4 -2,1 -5,-1.3 -4,-1.7 -2,-1.4 -1,-1.5 -1.1,-4.2 -2.1,-20 -1.5,-19 -1.3,-37.1 -1,-11.3 -2.8,51.4 -1.2,11.6 -1,5.5 -2,4.9 -2,2.9 -1,0.5 -4,1 -5,-2 -3,-1.9 -5,-4.7 -8,-9.4 -6,-12.6 -2,-1.8 -2,-0.2 0,-59.8z"/>
<path fill="#45c3a5" d="M37,292l162,0 0,81.8 -2,0.6 -2,4.2 -6,23.5 -1,1.2 -2,1.2 -5,1.5 -25,0.4 -7,-2.8 -21,-0.2 -1,0.3 -3,3.4 -3,1 -3,0.3 -1,-0.3 -3,-2.5 -7,-1.2 -1,-2.4 -1,-5.8 -1,0 -1,4.1 -1,1.6 -2,0.9 -6.3,-1.8 -3.7,-1.7 -1,-0.9 -1,-1.7 -1,-4.1 -3.1,-31.6 -1.9,-54.8 -1,-12.2 -2.6,58 -1.4,15.3 -1,5.2 -3,5.9 -2,1.9 -4,1.1 -5,-2 -2.1,-1.4 -2.9,-2.4 -10,-10.4 -3,-5 -4,-9.7 -2,-1.7 -2,-0.2 0,-56.6z"/>
<path fill="#56b94c" d="M37,292l43.5,0 -2.1,55 -1.4,17.9 -1,5 -1,2.2 -3,4.7 -1,0.6 -4,1 -5,-2.1 -4,-2.9 -8.1,-8.4 -4.3,-7 -3.6,-13.8 -2,-5.7 -2,-2.2 -2,-0.2 0,-44.1zM82,292l117,0 0,78.4 -2,0.5 -2,4.3 -2,6.7 -3,14.2 -1,3.5 -1,1.6 -2.5,1.8 -4.5,1.3 -23,0.3 -3,-0.3 -6,-2.5 -21,0.1 -1,0.3 -3,3.3 -1,0.5 -5,0.7 -1,-0.2 -3,-2.4 -7,-1.3 -1,-2.7 -1,-6.1 -1,0.2 -1,4.4 -1,1.7 -2,0.8 -6.7,-2.1 -4.3,-2.6 -1,-1.8 -1,-4.4 -3.1,-32.2z"/>
<path fill="#61ba44" d="M37,292l42.9,0 -1.7,54 -1.2,16.4 -1,4.9 -4,6.7 -1,0.6 -4,1 -6,-3.1 -7.2,-6.5 -3.8,-4.8 -1.5,-3.2 -2.7,-8 -2.8,-20.6 -2,-9 -2,-4.8 -1,-1.1 -2,-0.3 0,-22.2zM83,292l116,0 0,75.2 -2,0.5 -2,4 -2,6.4 -4,18.4 -2.5,3.5 -4.5,2.1 -10,0.2 -14,-0.3 -9,-3 -21,0.8 -1,0.3 -3,3.1 -3,0.8 -3,0.2 -1,-0.1 -3,-2.2 -7,-1.4 -1,-2.5 -1,-7.3 -1,0.7 -1,5.1 -1,1.6 -2,0.7 -5,-1.4 -6,-3.8 -1,-1.8 -1,-4.4 -3,-31.4 -1.7,-63 0,-1z"/>
<path fill="#6cbc3c" d="M37,292l42.5,0 -1.5,52.6 -1,14.7 -1,5.3 -4,6.5 -1,0.7 -4,1 -5,-2.8 -7,-6 -5,-6.7 -2.7,-8.3 -1.3,-5.8 -3,-32.1 -1,-6.6 -2,-8.3 -2,-3.6 -2,-0.5zM83,292l116,0 0,72 -2,0.5 -2.7,5.5 -2,7 -3.3,16.3 -1,2.2 -2,2.6 -5,1.9 -18,0 -5,-0.7 -8,-3.1 -4,0.1 -18,1.3 -1,0.3 -3,2.9 -6,0.9 -1,-0.1 -3,-1.8 -7,-1.7 -1,-2.6 -1,-8.9 -1,1 -1,6.7 -1,1.6 -1,0.3 -2,0 -4,-1.3 -6,-4.3 -1,-1.7 -1,-4.7 -3,-32.5 -1.1,-42.7 -0.3,-17z"/>
<path fill="#b0d42e" d="M44,292l35.1,0 -1.1,41.3 -1,19.9 -1,8.1 -4,6.9 -1.2,0.8 -3.8,0.9 -7.3,-4.9 -5.7,-5.5 -4,-6.4 -3,-12.4 -1,-7 -3,-41.7zM83,292l116,0 0,68.8 -2,0.4 -3,6.1 -2.2,7.7 -2.8,14.6 -1,2.8 -2,3.2 -2.4,1.4 -2.6,0.7 -18,0 -4,-0.9 -5,-2.4 -5,-1.2 -21,2.1 -1,0.3 -3,2.7 -6,0.8 -4,-1.7 -7,-1.8 -2,-14.1 -1,1.2 -1,7.9 -1,2.9 -2,0.4 -5,-1.5 -5.6,-4.4 -1.4,-2.5 -1,-5.4 -2,-19.8 -1,-16.9z"/>
<path fill="#e0e222" d="M44,292l34.7,0 -1.7,55 -1,9.2 -1,3.8 -3,6 -1,0.7 -4,0.9 -5,-3.1 -3,-2.5 -1.7,-2 -7.3,-14.2 -3,-13.6 -1,-8.1zM84,292l115,0 0,67 -2,0.4 -3,6 -2.3,7.6 -2.7,13.8 -1,3.2 -2,3.8 -3,1.8 -2,0.6 -9,0.3 -9,-0.4 -4,-1.4 -5,-3.3 -5,-1.1 -21,2.2 -1,0.2 -4,3 -6,0.8 -3,-1.9 -7,-2.2 -2,-14.1 -1,1 -1,8.2 -1,3.1 -2,0.4 -5,-1.5 -6,-4.6 -1,-2.2 -1,-5.3 -1,-8.8 -1.9,-28.6 -1,-48z"/>
<path fill="#f2e61e" d="M45,292l33.4,0 -0.4,19 -1.8,34 -2.1,13 -2.1,4.8 -1,0.7 -4,0.9 -4,-2.1 -4,-3.9 -1.3,-2.4 -3.7,-14.6 -4,-8.6 -1.5,-6.8 -2.5,-15.3 -1.3,-17.7 0,-1zM84,292l115,0 0,65 -2,0.5 -3,5.9 -2.4,7.6 -2.8,13 -1.8,5.1 -1.9,2.9 -2.1,1.5 -2,0.7 -9,0.4 -9,-0.7 -1,-0.2 -2.3,-1.7 -4.7,-4.7 -4,-1.4 -2,-0.2 -21,1.8 -1,0.2 -3,2.4 -3,1.6 -4,1 -3,-3 -7,-2.2 -1,-4.3 -1,-9.4 -1,1.3 -1,8.2 -1,2.5 -2,0.3 -5,-1.4 -6,-3.9 -1,-1.8 -1,-5 -2,-20.8 -1,-22.5 -0.8,-37.7 0,-1z"/>
<path fill="#f3e21e" d="M46,292l32,0 -1.1,32 -1.5,20 -1.6,11 -1.8,4.5 -1,0.7 -4,0.9 -4,-1.7 -2.5,-2.4 -2.5,-4.2 -4,-23.1 -4,-9.9 -1,-4.8 -3,-18.6 -0.3,-4.4zM84,292l115,0 0,63 -2,0.5 -3,5.9 -2.5,7.6 -3.8,15 -1.7,4.4 -1,1.2 -3,2.3 -1,0.3 -9,0.5 -9,-1 -1,-0.3 -1.5,-1.4 -5.5,-7.2 -4,-1.5 -2,-0.2 -22,1.6 -7,5.1 -3,1.1 -3,-4.1 -7,-2.2 -1,-3.9 -1,-10.2 -1,1.1 -1,9 -1,2.4 -2,0.2 -5,-1.3 -6,-3.2 -1,-1.7 -1,-4.9 -1.8,-19.1 -1.5,-42 -0.3,-17z"/>
<path fill="#f5df1e" d="M48,292l29.5,0 -1.1,29 -1.8,25 -1.6,8.1 -1,2.2 -1,0.7 -4,0.8 -5,-1.9 -3,-4.6 -0.9,-2.3 -4.1,-31.1 -1,-3.7 -3,-7.5 -2.5,-13.7 -0.1,-1zM84,292l115,0 0,61 -2,0.5 -3,5.9 -2.7,7.6 -4,15 -1.3,3.6 -1,1.5 -3,2.8 -1,0.2 -9,0.7 -9,-1.3 -2,-1.6 -6,-9.6 -2,-1 -4,-0.9 -22,1.3 -7.7,6.3 -2.3,1 -3,-5.1 -1,-0.6 -6,-1.7 -1,-4 -1,-9.4 -1,1.2 -1,8.3 -1,2.5 -2,0.1 -5,-1.1 -6,-2.6 -1,-1.6 -1,-4.8 -1.7,-17.2 -1.3,-33.9 -0.5,-23.1z"/>
<path fill="#f5c71e" d="M50,292l27,0 -1.3,31 -1.6,22 -1.1,5.6 -1,2.4 -1,0.8 -4,0.7 -4,-0.9 -1,-0.6 -3,-5.3 -1,-3.7 -4,-37.6 -1,-4.6 -3,-8.1zM84,292l115,0 0,59 -2,0.5 -2,3.6 -4,10.5 -5,17.3 -3,3.9 -2,1.3 -9,0.8 -9,-1.6 -1,-0.5 -1.2,-1.8 -5.8,-11.2 -1,-0.8 -4,-1.1 -23,0.8 -3,2 -6,6.3 -1,0.2 -3,-6.1 -1,-0.8 -6,-1.7 -1.5,-5.6 -0.5,-8.2 -1,2.2 -1,8.3 -1,2 -2,0.1 -4,-0.8 -7,-2.1 -1,-1.5 -1,-4.2 -1.5,-14.8 -1.5,-39z"/>
<path fill="#f5a91e" d="M53,292l23.6,0 -2.6,47.6 -1,6.8 -1,2.9 -1,0.9 -4,0.7 -4,-1 -1.6,-1.9 -2.3,-6 -1.1,-5.3 -4,-39.5zM84,292l115,0 0,57 -2,0.5 -2,3.6 -5,13.4 -4,13.5 -3,4.2 -2,1.3 -9,0.8 -9,-1.6 -1,-0.6 -1,-1.5 -6,-11.7 -1,-0.8 -4,-1 -23,0.6 -3,2 -5.4,6.3 -1.6,0.9 -3.2,-6.9 -0.8,-0.7 -6,-1.6 -1,-1.7 -1,-14.1 -1,2.8 -0.9,10.3 -1.1,1.6 -3,-0.1 -6,-1.2 -4,-1.3 -1,-1.3 -0.9,-3.7 -1.4,-14z"/>
<path fill="#f38e1e" d="M55,292l21.2,0 -2.2,40.8 -1.4,10.2 -0.6,2.1 -1,1.1 -3,0.6 -2,-0.2 -3,-1.4 -1,-1.1 -0.7,-2.1 -3.3,-14.9 -3.9,-35.1zM85,292l114,0 0,55 -2,0.5 -2,3.6 -5,13.6 -4,12.5 -1,1.7 -3,3.1 -1,0.3 -9,0.8 -9,-1.4 -1,-0.5 -1,-1.4 -6,-10.5 -1,-0.6 -5,-1 -22,0.7 -3,1.9 -6,7 -1,0.4 -3,-6.9 -1,-0.8 -6,-1.6 -0.7,-1.4 -0.6,-3 -0.7,-15 -1,3.4 -0.8,12.6 -0.2,1.2 -1,1.3 -3,-0.2 -8,-1.6 -2,-1.1 -1,-1.7 -1,-4.9 -1.3,-16 -1.7,-50z"/>
<path fill="#f1711f" d="M55,292l20.7,0 -1.7,31.7 -1,10.2 -1,5.7 -1,2.2 -4,0.7 -4,-2.3 -1,-2.1 -4,-21.3zM85,292l114,0 0,53 -2,0.5 -2,3.7 -8,22.6 -2,4.2 -3,2.8 -1,0.3 -9,0.8 -9,-1.3 -2,-1.5 -6,-9.3 -5,-1.3 -4,0 -19,0.7 -3,1.9 -6,7.1 -1,0.4 -3,-7 -1,-0.8 -6,-1.6 -0.6,-1.2 -0.5,-2 -0.9,-20 -1,2.8 -0.9,17.2 -0.8,2 -0.3,0.5 -2,0 -10,-2.2 -1.2,-1.3 -1.1,-3 -1.7,-16 -1.7,-52z"/>
<path fill="#ef5220" d="M56,292l19.2,0 -1.2,20.6 -2,16.6 -1,2 -3,1.4 -1,0 -1,-0.9 -3,-4 -1,-2.2zM85,292l114,0 0,51 -2,0.5 -2,3.7 -8,22.2 -2,3.7 -3,2.5 -1,0.3 -10,0.8 -9,-1.4 -4,-4.5 -3,-4.4 -1,-0.4 -5,-0.7 -21,0.5 -2,0.7 -2,1.4 -6,7.1 -1,0.5 -3,-7.2 -1,-0.7 -6,-1.6 -0.4,-1 -0.6,-5 -1,-22.4 -1,3.3 -1,20.9 -0.7,3.2 -0.3,0.4 -2,0 -10,-2.1 -1.1,-1.3 -1.1,-3 -1.8,-18.8 -1.5,-47.2 0,-1z"/>
<path fill="#e92a1e" d="M59,292l15.6,0 -1.1,15 -1.5,10.9 -1,2.3 -3,2.1 -1,0.1 -1,-1.4 -4,-8.9 -3.8,-19.1 -0.2,-1zM85,292l114,0 0,49 -2,0.5 -1.5,2.5 -6.5,18.3 -3,6.7 -4,3.4 -11,1.1 -9,-1.2 -4,-3.5 -2.9,-3.8 -1.1,-0.5 -6,-0.5 -20,0.5 -1,0.1 -3,1.9 -4,4.1 -2,2.9 -1,0.6 -3,-7.2 -1,-0.6 -6,-1.8 -1,-10 -1,-23.3 -1,3.4 -1,22.5 -1,7.1 -3,-0.1 -9,-2.1 -1,-1.3 -1,-3.3 -1,-7.8 -1,-15.7z"/>
<path fill="#e7201e" d="M61,292l13,0 -2,17.2 -1,2.2 -3,2.2 -1,0 -1,-1.5 -4,-10 -2,-10.1zM85,292l114,0 0,45.2 -2,0.8 -1.7,3 -6.3,18.1 -3,6 -3,2.7 -2,0.9 -8,0.9 -5,-0.2 -6,-1 -3.2,-2.4 -3.8,-4.3 -3,-1.1 -7,-0.7 -16,0.5 -2,0.3 -2,1.4 -7,7.7 -1,0.5 -3,-6.4 -1,-1 -5,-2.1 -1,-1 -1,-11.2 -1,-23.9 -1,3.3 -1,24.2 -1,7.4 -2,0.5 -10,-2.3 -1,-1.3 -1,-3.4 -1,-7.9 -1,-18.4z"/>
<path fill="#e7201e" d="M62,292l11.2,0 -1.2,9.7 -1,2.8 -3,2.4 -1,-0.1 -3,-6.6 -2,-5.7 -0.4,-2.5zM86,292l113,0 0,39.6 -2,1.1 -2,3.6 -6,17.6 -4,8.1 -3,3 -3,1.3 -6,0.7 -6,-0.3 -5,-1.6 -3.2,-3.1 -3.8,-4.9 -5,-2.8 -6,-1.3 -13,0.1 -4,0.9 -9,10.6 -1,0.3 -3,-6.3 -7,-6.3 -1,-10.8 -1,-22.7 -1,2.6 -1,22.4 -1,8.3 -3,0.1 -9,-2.2 -1,-1.3 -1,-3 -1,-7.7 -1.7,-46z"/>
<path fill="#e61f1e" d="M62,292l11.2,0 -1.2,9.7 -1,2.8 -3,2.4 -1,-0.1 -3,-6.6 -2,-5.7 -0.4,-2.5zM86,292l113,0 0,39.6 -2,1.1 -2,3.6 -6,17.6 -4,8.1 -3,3 -3,1.3 -6,0.7 -6,-0.3 -5,-1.6 -3.2,-3.1 -3.8,-4.9 -5,-2.8 -6,-1.3 -13,0.1 -4,0.9 -9,10.6 -1,0.3 -3,-6.3 -7,-6.3 -1,-10.8 -1,-22.7 -1,2.6 -1,22.4 -1,8.3 -3,0.1 -9,-2.2 -1,-1.3 -1,-3 -1,-7.7 -1.7,-46z"/>
<path fill="#e31f1e" d="M86,292l113,0 0,23.1 -2,1.9 -2,4.6 -6,19.4 -3,7.6 -4.1,6.4 -2.9,2.7 -3,1.9 -3,0.9 -2,0 -3,-0.9 -3,-1.8 -4,-4.1 -6,-10.3 -2,-2.4 -4,-3.5 -4,-1.6 -9,0.2 -5,-0.4 -3,0.8 -2,2.4 -5.5,10.1 -2.5,3 -1,0.1 -4,-8.4 -6,-10.4 -1,-10.3 -1,-20.2 -1,1.7 -1,20.1 -1,7.1 -2,0.4 -8,-2 -2,-0.8 -1,-1.4 -1,-2.7 -1,-7.4z"/>
<path fill="#e11e1e" d="M97,292l6.1,0 -0.1,2.2 -1,3.5 -4.1,-3.7zM106,292l91.3,0 -8.3,35 -3,8.7 -4,7.7 -4,4.6 -4,2.4 -3,0.3 -4,-1.8 -3.1,-2.9 -2.9,-3.9 -11,-21.2 -2,-2.3 -2,-0.8 -2,0.5 -5,3.4 -2,0.7 -3,-0.5 -4,-2.6 -1,-0.2 -1,0.4 -2,3.8 -2.7,8.7 -2.1,5 -2.2,3.3 -1,0.9 -1,0 -1,-1.6 -3.6,-9.6 -5.4,-23.1 -1,-9.2z"/>
<path fill="#d51d1d" d="M110,292l81,0 -1.7,13 -2.7,13 -3.2,11 -3.1,7 -3.3,4 -4,2.2 -2,0 -2,-0.7 -4,-3.5 -2.1,-3 -2.6,-6 -10.3,-29.8 -2,-3.1 -1,-0.2 -2,2.3 -4.6,9.8 -1.4,1.8 -2,1.4 -2,-0.2 -1.4,-1 -4.6,-7.3 -1,-0.6 -1,1.1 -6,23.1 -2,3.7 -1,0.6 -1,-0.4 -2,-4.3 -2.3,-9.9 -2.2,-15z"/>
<path fill="#c01a1a" d="M113,292l11.6,0 -1,10 -1.7,10 -1.9,6.5 -1,1.8 -1,0.7 -1,-0.6 -1,-2 -2,-8.4 -1.7,-15 -0.1,-3zM133,292l6.9,0 -0.9,4.6 -2,3.5 -1,0.3 -1,-0.6 -1,-1.5 -1.3,-4.3 -0.2,-2zM156,292l31.2,0 -1.6,14 -3.3,14 -2.3,6 -2,3.7 -2,2.6 -2,1.5 -3,0.3 -2.1,-1.1 -2.9,-3.4 -2.9,-5.6 -2.8,-8 -2.9,-11 -1.9,-11 -0.2,-2z"/>
<path fill="#9f1919" d="M115,292l7.3,0 -1.4,13 -1.5,5 -1.4,1.7 -1,-0.8 -0.7,-1.9 -1.3,-5.9 -1,-11.1zM160,292l24.4,0 -1,11 -2.5,11 -2.9,7.2 -2,2.9 -2,1.6 -2,0.4 -3,-1.6 -2,-2.6 -2.4,-4.9 -2.4,-7 -2,-9 -1,-9z"/>
<path fill="#811616" d="M117,292l3.1,0 -1.1,7.1 -1,1.2 -1,-1.9 -0.5,-3.4 -0.3,-3zM163,292l19.1,0 -0.7,9 -1.8,8 -2.6,6.3 -3,3.2 -2,0.3 -2,-1.2 -2,-2.6 -1.5,-3 -3.2,-11 -0.9,-9z"/>
<path fill="#671313" d="M166,292l13.9,0 -0.7,8 -1.1,5 -2.1,4.8 -2,1.9 -2,0.1 -1,-0.6 -1.7,-2.2 -1.3,-2.8 -2.1,-8.2 -0.6,-6z"/>
<path fill="#5a1212" d="M169,292l8.6,0 -1.1,8 -1.2,3 -1.3,1.5 -1,0.2 -1,-0.5 -2,-3.1 -1.5,-7.1 -0.1,-2z"/></g></g>
<g clip-path="url(#cd)"><g filter="url(#soft)"><rect x="294.0" y="292.0" width="160.0" height="156.0" fill="#5c1e6f"/>
<path fill="#5c267e" d="M295,292l155.8,0 -1.3,48 -1.8,14 -1,5 -2.3,6 -9.4,20.8 -2,4.8 -0.9,3.4 -0.4,4 0.3,21 -0.6,8 0.3,21 -128.1,0 -5.6,-26 -1,-3.3 -3,-3.7 0,-123z"/>
<path fill="#543da2" d="M295,292l154.2,0 -1.8,50 -2.2,12 -3.9,11 -7.7,17 -4.6,8.9 -1,0.9 -2,0.8 -6,1.2 -8,0.8 -22,0.2 -3,0.3 -1.2,0.9 6.2,1.1 19,0.1 7,1.2 5,2 1,0.9 1.1,1.7 1.8,6 1.4,10 0.1,24 0.4,5 -104.4,0 0.2,-37 -0.6,-2.8 -2,-0.4 -1,0.2 -0.8,1 -0.5,2 -0.8,37 -13.8,0 -1.1,-10.9 -6,-27.8 -1,-3.4 -3,-3.9 0,-110z"/>
<path fill="#4a51b8" d="M295,292l152.5,0 -2,50 -2,11 -3.8,11 -7.8,17 -3.9,7 -3,2.7 -6,1.7 -7,1.1 -25,0.4 -2,0.8 -0.8,1.3 1.1,1 12.7,1.6 13,-0.3 5,1.2 2,1 3.9,3.5 1.7,3 1.8,5 0.7,6 0.4,30 -101.2,0 0,-39 -0.9,-2 -3.4,-0.5 -1.1,0.5 -1,3 -0.9,23.7 -1.5,14.3 -10.2,0 -2.3,-23.4 -4.9,-22.6 -0.8,-2 -1.5,-1 -2.8,-0.9 0,-106.1z"/>
<path fill="#465fc3" d="M295,292l150.3,0 -2.2,54 -1.8,9 -2.4,7 -9.9,20.7 -4.4,6.3 -5.6,2.4 -7,1.4 -25,0.2 -2,0.4 -2.1,1.6 0.1,1 1,1.1 14,2.4 11,-0.8 5,0.9 3,1 4.7,4.4 1.5,3 1.2,5 0.3,35 -98.7,0 0.1,-40 -0.2,-1 -0.9,-1 -4,-0.7 -2,1 -0.7,1.7 -1.3,17.2 -1,7.4 -2,9.1 -1,1.9 -1,0.4 -3,-0.5 -1,-2 -1,-4.1 -2.3,-21.4 -3.1,-14 -1.3,-2 -1.3,-1 -5,-1.9 0,-105.1z"/>
<path fill="#4079d3" d="M295,292l148.2,0 -1.8,54 -1.9,10 -2.6,7 -9.5,19 -4,6 -5.4,2.7 -6,1.5 -26,0.1 -4,0.6 -0.3,1.1 1.1,3 2.2,0.9 9,1.5 4,1.1 7,-1.2 6,0 6,1.9 4,3.8 1.3,3 0.6,4 0,36 -96.2,0 0.3,-42.5 -0.6,-0.5 -5.4,-0.9 -3,0.8 -1,2.1 -2,12 -1,3.4 -1,1.7 -3,-0.1 -1,-0.6 -1,-2.2 -3.6,-19.2 -3.4,-3 -7,-2.7 0,-104.3z"/>
<path fill="#38a0e8" d="M295,292l146.8,0 -1.4,48 -1,9 -1.6,7 -3,8 -7.9,16 -3.5,6 -1.4,1.7 -3,1.7 -7,2 -27,0.1 -5,0.5 -4.6,2 1.6,0.7 3,-1 1,0.9 1.1,2.4 0.9,0.7 11,2.3 1.9,1 2.1,2.4 1,-0.2 1.6,-2.2 1.4,-0.5 3,-0.8 4,-0.2 7,1.6 3.3,2.9 1.3,2 0.4,2 0,40 -93.5,0 0.1,-40 1.3,-2 3.7,-2 6.4,-5.3 1.5,-0.7 -0.5,-0.3 -2,0.3 -8,4.7 -4,0.6 -14,-1.9 -3,0.6 -0.8,-1 -3.8,-2 -6.4,-2.6 -4,-1.1 0,-103.3z"/>
<path fill="#45c3a5" d="M295,292l145.4,0 -1.3,47 -1,9 -1.9,8 -3.2,8 -11,21.9 -4.6,3.1 -5.4,1.5 -27,0 -5,0.4 -9,2.6 -13,1.9 -13,-0.5 -7,1.8 -6,3.4 -4,1.6 -6,-0.7 -17,-5.2 -11,-2.5 0,-101.3zM380,395l2.6,3 8.3,2 1.9,1 0.3,1 1.2,9 0,37 -66,0 0,-38 0.7,-3 4,-2.5 6,-4.7 7,-3.4 15,-0.1 7,-0.9 9,0.3zM407,399.9l4,0.2 5,1.5 1.7,1.4 1.2,2 0.1,43 -20.5,0 0,-37 2.1,-4 0.9,-5 1.5,-1.3z"/>
<path fill="#56b94c" d="M295,292l143.6,0 -1.4,47 -1,9 -2,8 -3.2,7.6 -10,18.8 -3,3.2 -6,2.4 -7,0.4 -14,-0.6 -5,0.3 -2,1 -4,0.6 -8,2.3 -9,1.4 -5,0.7 -13.3,-0.1 -6.7,1.6 -7,3.2 -4,0.9 -4,-0.5 -7,-2.4 -10,-4.7 -7,-1.9 -5,-0.7 0,-97.5zM363,396.9l6,-0.7 11,-0.1 2,2.1 6,1.4 1,0.4 0.8,1 0,47 -60.6,0 0.2,-40 9.6,-7.5 6,-3 3,-0.4 10,0.3zM404,400.9l4,-0.6 4,0.4 3.7,1.3 1.5,2 0.1,44 -14.8,0 0,-38 0.4,-8z"/>
<path fill="#61ba44" d="M295,292l141.3,0 -1.7,49 -1,7 -1.7,7 -3.4,8 -3.5,6.2 -7,10.3 -3,2.5 -4,1.5 -6,0.8 -14,-0.8 -5,0.4 -1,0.3 -1.8,2.8 -1.2,0.6 -10.7,3.4 -12.3,2.2 -13,0 -8,1.4 -9,2.6 -4,0.2 -8,-3.1 -8,-4.9 -5,-2.1 -10,-2 0,-93.3zM368,396.9l11,0.1 5,2.5 3.2,0.5 0.7,1 -0.1,47 -57.3,0 0.3,-40 8.4,-7 6.8,-3.1 12,0.2zM406,400.9l5.3,0.1 3,1 1.1,1 0.2,45 -11.3,0 0,-45 0.1,-1z"/>
<path fill="#6cbc3c" d="M295,292l138.9,0 -1.8,48 -1,8 -1.2,5 -1.2,4 -1.9,4 -3.8,6.2 -3,3.9 -5,5.4 -2,1.3 -8,2.3 -14,-1 -5,0.5 -1,0.3 -1,1.1 -2,4.2 -5,2.7 -6,2.1 -3,0 -2,0.8 -8,1.9 -12,-0.1 -17,2.5 -4,0 -7,-3.4 -7,-5.3 -5,-2.7 -4,-1.3 -8,-1.2 0,-89.2zM364,398l6,-0.6 8,0.3 7.3,3.3 0,47 -50.9,0 0,-40 0.6,-2 4,-4 7,-3.5 13,0.2z"/>
<path fill="#b0d42e" d="M295,292l136.6,0 -2,48 -1,8 -2.5,9 -2.2,4 -3.9,5.5 -3,3 -5,3.7 -8,2.7 -13,-1.1 -6,0.7 -1,0.7 -3,7 -5,3.7 -5,2 -3,-0.1 -2,1.1 -8,2.1 -12,0 -18,1.1 -3,-0.5 -5,-2.8 -7,-6.3 -6,-3.7 -4,-1.4 -9,-1.3 0,-85.1zM347,398.9l12,0.6 7,-1.2 4,-0.2 7.4,0.9 0.6,2 0,47 -37.8,0 0.1,-45 1.7,-2z"/>
<path fill="#e0e222" d="M295,292l135.5,0 -2.1,48 -1,8 -2.6,9 -2.3,4 -3.5,4.8 -3,2.8 -4,2.7 -8,2.4 -13,-0.8 -7,1.7 -1,1.3 -2,5.5 -1,1.4 -4,3.3 -5,2.2 -1,0.3 -2,-0.4 -3,1.5 -8,1.8 -29,0.7 -2,-0.2 -2,-0.8 -4,-2.7 -6,-6.3 -7,-4.9 -13,-3.5 0,-81.8zM364,399l7,-0.2 1.8,0.2 1.2,1 0,48 -31.9,0 0.2,-46 2.5,-2 2.2,-0.6 13,0.6z"/>
<path fill="#f2e61e" d="M295,292l134.5,0 -2.4,49 -1.4,9 -1.3,5 -1.3,3 -4.7,7 -6.4,4.9 -7,1.6 -5,-0.9 -8,0.6 -8.4,2.8 -1.4,1 -1.6,5 -1.3,2 -4.3,3.9 -5,2.2 -2,-0.6 -3,1.9 -8,1.5 -29,0.4 -4,-0.8 -3.4,-2.5 -5.6,-6.9 -7,-5.8 -11,-4.2 -3,-2.1 0,-77zM374.7,379l-2.9,2 0.2,0.4 1.8,-0.4 1.5,-2zM366,399l2,0.2 1.9,0.8 0.1,48 -7.6,0 -0.4,-2 0.1,-45 1.1,-1zM347,399.9l6.1,0.1 4.2,1 0.5,47 -12.7,0 -0.1,-46 0.2,-1z"/>
<path fill="#f3e21e" d="M295,292l133.6,0 -2.8,50 -1.6,9 -2.3,7 -4,6 -5.9,4.6 -6,0.7 -4,-1.3 -6,0.1 -6,2 -8,4.3 -3,0.4 -8,5.8 0,1.9 3,-0.9 5,-5.3 1.4,-0.3 0.4,1 -1.8,4 -3.8,4 -4.2,2.1 -1,0.3 -2,-0.8 -2,2 -8,1.6 -30,0.3 -4,-0.7 -4.2,-3.8 -3.8,-6 -7,-6.6 -10.2,-5.4 -4.8,-3.8 0,-72.2z"/>
<path fill="#f5df1e" d="M295,292l132.7,0 -3.2,51 -1.5,8 -2.3,7 -3.7,5.5 -5,3.7 -5,-0.2 -3,-1.6 -1,-0.1 -7,0.1 -2,0.5 -12,7.9 -1,0.5 -2,0 -8,5.3 -0.8,1.4 0.4,3 -2.6,1.8 -2,2.4 -9,1.3 -28,0.2 -5,-0.6 -3.2,-3.1 -3.8,-7.1 -5,-5.6 -3,-2.7 -8.3,-5.6 -6.7,-5.6 0,-67.4zM379,377.4l0.4,0.6 -0.4,1.1 -4,5.1 -2,1.3 -2.4,0.5 0.9,-3 3.1,-1z"/>
<path fill="#f5c71e" d="M295,292l131.7,0 -3.3,51 -1.5,8 -2.4,7 -3.5,5 -4,2.8 -4,-0.9 -2,-1.9 -1,-0.3 -10,0 -2,0.6 -9.3,8.7 -2.7,1.7 -2,0 -8.3,5.3 -0.9,1 0.3,3 -0.4,1 -4.5,4 -19.2,1 -18,-0.2 -4,-0.6 -2.8,-3.2 -3.1,-7 -5.1,-6.5 -19,-16.9 0,-62.6zM373,382.9l1,0.1 0,1 -1,0.6 -1,-0.1 0,-0.9z"/>
<path fill="#f5a91e" d="M295,292l130.9,0 -3.4,51 -1.3,7 -2.3,7 -2.9,4.2 -2,1.9 -2,1 -2,-0.4 -2,-1.5 -1.6,-2.2 -3.6,-10 -1.8,-1.9 -1,0.2 -2,2.7 -6.4,11 -2.4,3 -5.5,6 -2.5,2 -2.2,0.2 -9.5,5.8 0,4 -0.5,1 -1.6,1 -1.4,1.8 -20,1 -20,-0.3 -1.7,-0.5 -2.5,-3 -2,-6 -5.4,-7 -20.4,-19.3 0,-59.7z"/>
<path fill="#f38e1e" d="M295,292l130,0 -3.1,50 -1.5,8 -2.1,6 -2.3,3.4 -2,1.9 -2,1.1 -2,-0.5 -2,-1.8 -1.3,-2.1 -3.8,-11 -0.9,-1 -3,-0.4 -1,0.3 -0.6,1.1 -7.5,15 -4.8,6 -4.1,4.1 -2,0.5 -4,2.7 -6,3 -0.5,0.7 -0.2,4 -1.3,1 -3,0.8 -18,0.6 -19,-0.4 -2,-0.5 -2,-1.7 -1.3,-4.8 -6,-7 -21.7,-20.6 0,-58.4z"/>
<path fill="#f1711f" d="M295,292l129.2,0 -2.7,48 -1,7 -2.1,7 -2.4,3.8 -2,1.8 -2,1.1 -2,-0.5 -3,-3.9 -3,-11.5 -3,-3.6 -2,-0.1 -3,2.8 -3.5,10.1 -4.1,8 -6.4,7.9 -8,5.1 -5,2 -2,1.4 -2,0.4 -19,0.5 -18,-0.7 -4,-0.8 -30,-28.4 0,-57.4z"/>
<path fill="#ef5220" d="M295,292l128.4,0 -2.6,48 -1,7 -1.8,6 -2,3.2 -2,2 -2,1 -2,-0.8 -2,-2.5 -3.7,-14.9 -2.3,-4.3 -1,-1.2 -1,-0.5 -1,0.3 -2.1,2.7 -4.7,14 -4.2,8.9 -5,6.8 -7,4.7 -8,3 -4,0.7 -18,0.5 -21,-1 -7,-5.1 -24,-22.1 0,-56.4z"/>
<path fill="#e92a1e" d="M295,292l127.5,0 -2.4,48 -1,7 -2,6 -2.1,2.7 -2,1.7 -1,0.3 -2,-1.4 -1,-1.5 -1,-3.3 -2.2,-10.5 -3.8,-6.2 -1,-0.9 -2,-0.2 -1.7,1.3 -1.6,3 -3.7,12.1 -2,5.2 -2,3.7 -5,7.4 -6,3.8 -4.9,1.8 -7.1,1.7 -19,0.5 -19,-0.5 -2,-0.5 -5,-2.6 -4.5,-3.6 -21.5,-19.6 0,-55.4z"/>
<path fill="#e7201e" d="M295,292l126.2,0 -1.2,32.9 -1,14.6 -1.1,6.5 -1.9,5.7 -1,1.1 -1,0.3 -3,-0.4 -0.9,-0.7 -3.1,-11.7 -5.3,-9.3 -0.9,-1 -1.8,-0.1 -1,0.7 -2.3,3.4 -2.3,6 -2.4,9 -3,6.3 -6.3,8.7 -5.7,3.5 -8,3 -5,0.7 -35,0.1 -3,-0.5 -3,-1.4 -6,-4.4 -13,-12.9 -9,-7.9 0,-52.2z"/>
<path fill="#e7201e" d="M295,292l124.1,0 -0.8,28 -1.3,19 -2.7,10 -1.3,1.2 -1,-0.6 -2.1,-3.6 -3.7,-14 -2.2,-5.7 -7,0.2 -1.3,0.5 -0.6,1 -6.5,21 -7.6,9.8 -9.1,7.2 -4.9,2.3 -4,0.7 -10,-0.4 -8,0.9 -8,-1 -9,0.9 -4,-1.1 -2.2,-1.3 -3.4,-3 -7.4,-9.2 -5,-5.5 -7.3,-7.3 -4.7,-3.8 0,-46.2z"/>
<path fill="#e61f1e" d="M295,292l124.1,0 -0.8,28 -1.3,19 -2.7,10 -1.3,1.2 -1,-0.6 -2.1,-3.6 -3.7,-14 -2.2,-5.7 -7,0.2 -1.3,0.5 -0.6,1 -6.5,21 -7.6,9.8 -9.1,7.2 -4.9,2.3 -4,0.7 -10,-0.4 -8,0.9 -8,-1 -9,0.9 -4,-1.1 -2.2,-1.3 -3.4,-3 -7.4,-9.2 -5,-5.5 -7.3,-7.3 -4.7,-3.8 0,-46.2z"/>
<path fill="#e31f1e" d="M295,292l97.9,0 -0.3,4 -2,7 -4.6,22 -4,7.6 -6.6,17.4 -3.4,6 -2.8,4 -3.2,2.8 -3,1.2 -3,-0.1 -5,-2.4 -2,-0.2 -5,3.2 -2,0.8 -3,-0.8 -5,-4.1 -1,-0.2 -5,3.8 -3,1.3 -3,-0.5 -2.6,-1.8 -3.4,-3.9 -1.2,-2.1 -5.8,-16.3 -3,-6.6 -4,-6.3 -4,-5.1 -6,-6.4 -2,-1.5 0,-22.8z"/>
<path fill="#e11e1e" d="M313,292l66.3,0 -1.7,24 -2.7,18 -2.2,7 -2.3,5 -3.4,5.8 -3,3.2 -2,0.7 -1,-0.1 -2,-1.4 -1.5,-2.2 -3.5,-7.7 -1,0.6 -3,7.5 -2,3.6 -2,1.6 -1,0 -1.8,-1.6 -1.2,-1.9 -4,-11.6 -1,-0.8 -1,1.2 -3,9.2 -2,3.5 -1,1 -2,1 -2,-0.4 -2,-1.8 -2,-3.2 -2,-4.7 -4.4,-15.5 -2.4,-24 -0.9,-16z"/>
<path fill="#d51d1d" d="M316,292l59.8,0 -1.4,21 -2.6,16 -2.8,10 -3,5.3 -2,2.3 -2,0.8 -1,-0.2 -2,-2.1 -4,-11.7 -1,-1.4 -1,0.4 -1,2.4 -2,7.2 -2,5 -1.8,2 -1.2,0.1 -2,-2.2 -4,-12.6 -1,-2.2 -1,-0.6 -1.2,1.5 -3.3,10 -2,4 -2.5,1.8 -2,-0.4 -1,-0.8 -2,-2.8 -2,-4.7 -1.6,-5.1 -1,-5 -1.6,-12 -0.9,-12 -0.6,-14z"/>
<path fill="#c01a1a" d="M318,292l55.4,0 -1,16 -1.9,13 -3.2,12 -1.7,4 -1.6,2.3 -2,1 -2,-1.3 -1.1,-2 -2.9,-9.3 -1,-2.3 -1,-1 -1,0.2 -1,1.5 -4,13.2 -2,2.5 -1,0 -2.1,-2.8 -3.9,-12.5 -1,-1.5 -1,-0.4 -1,0.6 -1,1.7 -3.5,10.1 -1.5,2.8 -2,1.4 -2,-0.4 -1,-0.8 -1.8,-3 -1.2,-3.5 -2.6,-12.5 -2,-21 -0.2,-8z"/>
<path fill="#9f1919" d="M319,292l52.4,0 -0.8,13 -1.6,10.9 -2.2,9.1 -2.8,6.4 -2,1.4 -1,-0.4 -2,-3.3 -4,-10.1 -1,-0.9 -1,0 -2,3.3 -4,12 -1,1.1 -1,0 -2,-3.3 -4,-11.4 -1,-1.3 -1,-0.3 -2,1.9 -5,11.4 -2,1.8 -2,-0.6 -1.7,-2.7 -1.3,-3.3 -2,-8.8 -1.6,-13.9z"/>
<path fill="#811616" d="M321,292l48.5,0 -0.6,10 -1.4,10 -1.7,7 -2.2,5 -1.6,1.3 -1,-0.3 -1,-1.2 -5,-11.4 -1,-1 -1,-0.1 -2,2.9 -4,11.5 -1,1.2 -1,0 -2,-3.4 -4,-11 -1,-1.1 -1,-0.3 -2,1.8 -5,10.3 -2,1.8 -1,0 -1,-0.8 -1.7,-3.2 -2,-8 -1.6,-14 -0.3,-7z"/>
<path fill="#671313" d="M323,292l44.5,0 -0.4,8 -1.1,7.8 -1.3,5.2 -1.7,3.9 -1,0.7 -1,-0.2 -1,-1.2 -5,-12.2 -1,-1.6 -1,-0.4 -1,1 -1,2.3 -4,12.6 -1,1.4 -1,0 -2,-3.7 -4,-12.9 -1,-1.6 -1,-0.4 -2,2.6 -5,11.3 -2,1.8 -1,-0.1 -2,-3.2 -1.7,-7.1 -1.2,-14z"/>
<path fill="#5a1212" d="M325,292l7.6,0 -1.8,9 -1.7,4 -1.1,0.9 -1,-0.4 -1,-1.8 -0.9,-3.7 -0.8,-8zM342,292l8,0 -1.6,12 -1.4,5 -1,1.6 -1,0.1 -1,-1.7 -1.4,-5 -1.6,-12zM357,292l8.4,0 -0.4,6.4 -0.9,5.6 -1.1,3.3 -1,1.3 -1,-0.1 -2,-3.8 -1.8,-7.7 -0.6,-5z"/></g></g>
<text transform="translate(11.00,287.00) translate(0.00,0) scale(1.1412,1)" font-family="Liberation Serif, serif" font-size="15" font-weight="bold" fill="#111" xml:space="preserve"><tspan>(c)</tspan></text>
<text transform="translate(66.40,282.00) translate(0.00,0) scale(1.0337,1)" font-family="Liberation Serif, serif" font-size="13.4" font-weight="bold" fill="#111" xml:space="preserve"><tspan>Frequency (THz)</tspan></text>
<text transform="translate(41.30,293.20) translate(-2.33,0)" font-family="Liberation Sans, sans-serif" font-size="8.4" font-weight="bold" fill="#222" xml:space="preserve"><tspan>4</tspan></text>
<path d="M41.3,296.4 v2.2" stroke="#222" stroke-width="0.7"/>
<text transform="translate(59.90,293.20) translate(-2.33,0)" font-family="Liberation Sans, sans-serif" font-size="8.4" font-weight="bold" fill="#222" xml:space="preserve"><tspan>6</tspan></text>
<path d="M59.9,296.4 v2.2" stroke="#222" stroke-width="0.7"/>
<text transform="translate(78.50,293.20) translate(-2.33,0)" font-family="Liberation Sans, sans-serif" font-size="8.4" font-weight="bold" fill="#222" xml:space="preserve"><tspan>8</tspan></text>
<path d="M78.5,296.4 v2.2" stroke="#222" stroke-width="0.7"/>
<text transform="translate(97.10,293.20) translate(-4.66,0)" font-family="Liberation Sans, sans-serif" font-size="8.4" font-weight="bold" fill="#222" xml:space="preserve"><tspan>10</tspan></text>
<path d="M97.1,296.4 v2.2" stroke="#222" stroke-width="0.7"/>
<text transform="translate(115.70,293.20) translate(-4.66,0)" font-family="Liberation Sans, sans-serif" font-size="8.4" font-weight="bold" fill="#222" xml:space="preserve"><tspan>12</tspan></text>
<path d="M115.7,296.4 v2.2" stroke="#222" stroke-width="0.7"/>
<text transform="translate(134.30,293.20) translate(-4.66,0)" font-family="Liberation Sans, sans-serif" font-size="8.4" font-weight="bold" fill="#222" xml:space="preserve"><tspan>14</tspan></text>
<path d="M134.3,296.4 v2.2" stroke="#222" stroke-width="0.7"/>
<text transform="translate(152.90,293.20) translate(-4.66,0)" font-family="Liberation Sans, sans-serif" font-size="8.4" font-weight="bold" fill="#222" xml:space="preserve"><tspan>16</tspan></text>
<path d="M152.9,296.4 v2.2" stroke="#222" stroke-width="0.7"/>
<text transform="translate(171.50,293.20) translate(-4.66,0)" font-family="Liberation Sans, sans-serif" font-size="8.4" font-weight="bold" fill="#222" xml:space="preserve"><tspan>18</tspan></text>
<path d="M171.5,296.4 v2.2" stroke="#222" stroke-width="0.7"/>
<text transform="translate(190.10,293.20) translate(-4.66,0)" font-family="Liberation Sans, sans-serif" font-size="8.4" font-weight="bold" fill="#222" xml:space="preserve"><tspan>20</tspan></text>
<path d="M190.1,296.4 v2.2" stroke="#222" stroke-width="0.7"/>
<text transform="translate(34.00,303.20) translate(-11.99,0)" font-family="Liberation Sans, sans-serif" font-size="8.6" font-weight="bold" fill="#222" xml:space="preserve"><tspan>3.5</tspan></text>
<path d="M37.2,300.1 h3.1" stroke="#222" stroke-width="0.8"/>
<path d="M38.6,310.4 h1.7" stroke="#222" stroke-width="0.6"/>
<text transform="translate(34.00,323.80) translate(-11.99,0)" font-family="Liberation Sans, sans-serif" font-size="8.6" font-weight="bold" fill="#222" xml:space="preserve"><tspan>3.0</tspan></text>
<path d="M37.2,320.7 h3.1" stroke="#222" stroke-width="0.8"/>
<path d="M38.6,331.0 h1.7" stroke="#222" stroke-width="0.6"/>
<text transform="translate(34.00,344.40) translate(-11.99,0)" font-family="Liberation Sans, sans-serif" font-size="8.6" font-weight="bold" fill="#222" xml:space="preserve"><tspan>2.5</tspan></text>
<path d="M37.2,341.3 h3.1" stroke="#222" stroke-width="0.8"/>
<path d="M38.6,351.6 h1.7" stroke="#222" stroke-width="0.6"/>
<text transform="translate(34.00,365.00) translate(-11.99,0)" font-family="Liberation Sans, sans-serif" font-size="8.6" font-weight="bold" fill="#222" xml:space="preserve"><tspan>2.0</tspan></text>
<path d="M37.2,361.9 h3.1" stroke="#222" stroke-width="0.8"/>
<path d="M38.6,372.2 h1.7" stroke="#222" stroke-width="0.6"/>
<text transform="translate(34.00,385.60) translate(-11.99,0)" font-family="Liberation Sans, sans-serif" font-size="8.6" font-weight="bold" fill="#222" xml:space="preserve"><tspan>1.5</tspan></text>
<path d="M37.2,382.5 h3.1" stroke="#222" stroke-width="0.8"/>
<path d="M38.6,392.8 h1.7" stroke="#222" stroke-width="0.6"/>
<text transform="translate(34.00,406.20) translate(-11.99,0)" font-family="Liberation Sans, sans-serif" font-size="8.6" font-weight="bold" fill="#222" xml:space="preserve"><tspan>1.0</tspan></text>
<path d="M37.2,403.1 h3.1" stroke="#222" stroke-width="0.8"/>
<path d="M38.6,413.4 h1.7" stroke="#222" stroke-width="0.6"/>
<text transform="translate(34.00,426.80) translate(-11.99,0)" font-family="Liberation Sans, sans-serif" font-size="8.6" font-weight="bold" fill="#222" xml:space="preserve"><tspan>0.5</tspan></text>
<path d="M37.2,423.7 h3.1" stroke="#222" stroke-width="0.8"/>
<path d="M38.6,434.0 h1.7" stroke="#222" stroke-width="0.6"/>
<text transform="translate(34.00,447.40) translate(-11.99,0)" font-family="Liberation Sans, sans-serif" font-size="8.6" font-weight="bold" fill="#222" xml:space="preserve"><tspan>0.0</tspan></text>
<path d="M37.2,444.3 h3.1" stroke="#222" stroke-width="0.8"/>
<text transform="translate(59.86,456.30) translate(-6.99,0)" font-family="Liberation Sans, sans-serif" font-size="8.4" font-weight="bold" fill="#222" xml:space="preserve"><tspan>200</tspan></text>
<path d="M59.9,444 v2.4" stroke="#222" stroke-width="0.7"/>
<text transform="translate(87.74,456.30) translate(-6.99,0)" font-family="Liberation Sans, sans-serif" font-size="8.4" font-weight="bold" fill="#222" xml:space="preserve"><tspan>300</tspan></text>
<path d="M87.7,444 v2.4" stroke="#222" stroke-width="0.7"/>
<text transform="translate(115.62,456.30) translate(-6.99,0)" font-family="Liberation Sans, sans-serif" font-size="8.4" font-weight="bold" fill="#222" xml:space="preserve"><tspan>400</tspan></text>
<path d="M115.6,444 v2.4" stroke="#222" stroke-width="0.7"/>
<text transform="translate(143.51,456.30) translate(-6.99,0)" font-family="Liberation Sans, sans-serif" font-size="8.4" font-weight="bold" fill="#222" xml:space="preserve"><tspan>500</tspan></text>
<path d="M143.5,444 v2.4" stroke="#222" stroke-width="0.7"/>
<text transform="translate(171.39,456.30) translate(-6.99,0)" font-family="Liberation Sans, sans-serif" font-size="8.4" font-weight="bold" fill="#222" xml:space="preserve"><tspan>600</tspan></text>
<path d="M171.4,444 v2.4" stroke="#222" stroke-width="0.7"/>
<text transform="translate(57.50,471.50) translate(0.00,0) scale(1.1059,1)" font-family="Liberation Serif, serif" font-size="12.8" font-weight="bold" fill="#111" xml:space="preserve"><tspan>Wavenumber (cm</tspan><tspan font-size="7.94" dy="-5.12">-1</tspan><tspan dy="5.12">)</tspan></text>
<text transform="translate(13.50,370.00) rotate(-90) translate(-46.50,0) scale(1.1076,1)" font-family="Liberation Serif, serif" font-size="12.2" font-weight="bold" fill="#111" xml:space="preserve"><tspan>Bias Voltage (V)</tspan></text>
<rect x="215.4" y="303" width="15.4" height="136.3" fill="url(#cbc)"/>
<text transform="translate(205.00,295.20) translate(0.00,0) scale(1.1241,1)" font-family="Liberation Sans, sans-serif" font-size="8.6" font-weight="bold" fill="#222" xml:space="preserve"><tspan>R (A/W)</tspan></text>
<path d="M230.8,337 h2.6" stroke="#222" stroke-width="0.8"/>
<text transform="translate(236.00,340.20) translate(0.00,0)" font-family="Liberation Sans, sans-serif" font-size="8.6" font-weight="bold" fill="#222" xml:space="preserve"><tspan>10</tspan><tspan font-size="5.33" dy="-3.44">0</tspan></text>
<path d="M230.8,382 h2.6" stroke="#222" stroke-width="0.8"/>
<text transform="translate(236.00,385.20) translate(0.00,0)" font-family="Liberation Sans, sans-serif" font-size="8.6" font-weight="bold" fill="#222" xml:space="preserve"><tspan>10</tspan><tspan font-size="5.33" dy="-3.44">-1</tspan></text>
<path d="M230.8,426.4 h2.6" stroke="#222" stroke-width="0.8"/>
<text transform="translate(236.00,429.60) translate(0.00,0)" font-family="Liberation Sans, sans-serif" font-size="8.6" font-weight="bold" fill="#222" xml:space="preserve"><tspan>10</tspan><tspan font-size="5.33" dy="-3.44">-2</tspan></text>
<text transform="translate(46.90,439.80) translate(0.00,0) scale(1.1453,1)" font-family="Liberation Sans, sans-serif" font-size="8.0" font-weight="bold" fill="#fff" xml:space="preserve"><tspan>4.2 K</tspan></text>
<text transform="translate(77.20,429.60) translate(0.00,0)" font-family="Liberation Sans, sans-serif" font-size="11.4" font-weight="bold" fill="#fff" xml:space="preserve"><tspan>I</tspan></text><text transform="translate(81.00,433.00) translate(0.00,0)" font-family="Liberation Sans, sans-serif" font-size="7.4" font-weight="bold" fill="#fff" xml:space="preserve"><tspan>F</tspan></text>
<path d="M85,421 L90.2,406.5" stroke="#fff" stroke-width="1.3"/>
<text transform="translate(148.70,437.50) translate(0.00,0)" font-family="Liberation Sans, sans-serif" font-size="11.4" font-weight="bold" fill="#fff" xml:space="preserve"><tspan>I</tspan></text><text transform="translate(152.10,441.50) translate(0.00,0)" font-family="Liberation Sans, sans-serif" font-size="7.4" font-weight="bold" fill="#fff" xml:space="preserve"><tspan>R</tspan></text>
<path d="M158.5,431.4 H173.6" stroke="#fff" stroke-width="1.2"/><polygon points="176.5,431.4 173.3,433.2 174.3,431.4 173.3,429.6" fill="#fff"/>
<text transform="translate(263.80,288.60) translate(0.00,0) scale(1.0557,1)" font-family="Liberation Serif, serif" font-size="15.5" font-weight="bold" fill="#111" xml:space="preserve"><tspan>(d)</tspan></text>
<text transform="translate(324.00,283.60) translate(0.00,0) scale(1.0307,1)" font-family="Liberation Serif, serif" font-size="13.4" font-weight="bold" fill="#111" xml:space="preserve"><tspan>Frequency (THz)</tspan></text>
<text transform="translate(309.50,292.20) translate(-4.66,0)" font-family="Liberation Sans, sans-serif" font-size="8.4" font-weight="bold" fill="#222" xml:space="preserve"><tspan>15</tspan></text>
<text transform="translate(432.60,292.20) translate(-6.99,0)" font-family="Liberation Sans, sans-serif" font-size="8.4" font-weight="bold" fill="#222" xml:space="preserve"><tspan>150</tspan></text>
<text transform="translate(292.40,303.20) translate(-11.99,0)" font-family="Liberation Sans, sans-serif" font-size="8.6" font-weight="bold" fill="#222" xml:space="preserve"><tspan>3.5</tspan></text>
<path d="M294.2,300.1 h2.8" stroke="#222" stroke-width="0.8"/>
<path d="M295.4,310.4 h1.6" stroke="#222" stroke-width="0.6"/>
<text transform="translate(292.40,323.80) translate(-11.99,0)" font-family="Liberation Sans, sans-serif" font-size="8.6" font-weight="bold" fill="#222" xml:space="preserve"><tspan>3.0</tspan></text>
<path d="M294.2,320.7 h2.8" stroke="#222" stroke-width="0.8"/>
<path d="M295.4,331.0 h1.6" stroke="#222" stroke-width="0.6"/>
<text transform="translate(292.40,344.40) translate(-11.99,0)" font-family="Liberation Sans, sans-serif" font-size="8.6" font-weight="bold" fill="#222" xml:space="preserve"><tspan>2.5</tspan></text>
<path d="M294.2,341.3 h2.8" stroke="#222" stroke-width="0.8"/>
<path d="M295.4,351.6 h1.6" stroke="#222" stroke-width="0.6"/>
<text transform="translate(292.40,365.00) translate(-11.99,0)" font-family="Liberation Sans, sans-serif" font-size="8.6" font-weight="bold" fill="#222" xml:space="preserve"><tspan>2.0</tspan></text>
<path d="M294.2,361.9 h2.8" stroke="#222" stroke-width="0.8"/>
<path d="M295.4,372.2 h1.6" stroke="#222" stroke-width="0.6"/>
<text transform="translate(292.40,385.60) translate(-11.99,0)" font-family="Liberation Sans, sans-serif" font-size="8.6" font-weight="bold" fill="#222" xml:space="preserve"><tspan>1.5</tspan></text>
<path d="M294.2,382.5 h2.8" stroke="#222" stroke-width="0.8"/>
<path d="M295.4,392.8 h1.6" stroke="#222" stroke-width="0.6"/>
<text transform="translate(292.40,406.20) translate(-11.99,0)" font-family="Liberation Sans, sans-serif" font-size="8.6" font-weight="bold" fill="#222" xml:space="preserve"><tspan>1.0</tspan></text>
<path d="M294.2,403.1 h2.8" stroke="#222" stroke-width="0.8"/>
<path d="M295.4,413.4 h1.6" stroke="#222" stroke-width="0.6"/>
<text transform="translate(292.40,426.80) translate(-11.99,0)" font-family="Liberation Sans, sans-serif" font-size="8.6" font-weight="bold" fill="#222" xml:space="preserve"><tspan>0.5</tspan></text>
<path d="M294.2,423.7 h2.8" stroke="#222" stroke-width="0.8"/>
<path d="M295.4,434.0 h1.6" stroke="#222" stroke-width="0.6"/>
<text transform="translate(292.40,447.40) translate(-11.99,0)" font-family="Liberation Sans, sans-serif" font-size="8.6" font-weight="bold" fill="#222" xml:space="preserve"><tspan>0.0</tspan></text>
<path d="M294.2,444.3 h2.8" stroke="#222" stroke-width="0.8"/>
<path d="M309.5,296.4 v2.2" stroke="#222" stroke-width="0.6"/>
<path d="M324.9,296.4 v1.4" stroke="#222" stroke-width="0.6"/>
<path d="M346.5,296.4 v1.4" stroke="#222" stroke-width="0.6"/>
<path d="M361.9,296.4 v1.4" stroke="#222" stroke-width="0.6"/>
<path d="M373.8,296.4 v1.4" stroke="#222" stroke-width="0.6"/>
<path d="M383.5,296.4 v1.4" stroke="#222" stroke-width="0.6"/>
<path d="M391.7,296.4 v1.4" stroke="#222" stroke-width="0.6"/>
<path d="M398.8,296.4 v1.4" stroke="#222" stroke-width="0.6"/>
<path d="M405.1,296.4 v1.4" stroke="#222" stroke-width="0.6"/>
<path d="M410.8,296.4 v1.4" stroke="#222" stroke-width="0.6"/>
<path d="M432.4,296.4 v2.2" stroke="#222" stroke-width="0.6"/>
<path d="M309.5,444 v2.4" stroke="#222" stroke-width="0.6"/>
<path d="M319.2,444 v1.5" stroke="#222" stroke-width="0.6"/>
<path d="M327.5,444 v1.5" stroke="#222" stroke-width="0.6"/>
<path d="M334.6,444 v1.5" stroke="#222" stroke-width="0.6"/>
<path d="M340.9,444 v1.5" stroke="#222" stroke-width="0.6"/>
<path d="M346.5,444 v1.5" stroke="#222" stroke-width="0.6"/>
<path d="M383.5,444 v1.5" stroke="#222" stroke-width="0.6"/>
<path d="M405.1,444 v1.5" stroke="#222" stroke-width="0.6"/>
<path d="M420.5,444 v1.5" stroke="#222" stroke-width="0.6"/>
<path d="M432.4,444 v2.4" stroke="#222" stroke-width="0.6"/>
<text transform="translate(308.50,456.60) translate(-6.99,0)" font-family="Liberation Sans, sans-serif" font-size="8.4" font-weight="bold" fill="#222" xml:space="preserve"><tspan>500</tspan></text>
<text transform="translate(432.50,456.60) translate(-9.32,0)" font-family="Liberation Sans, sans-serif" font-size="8.4" font-weight="bold" fill="#222" xml:space="preserve"><tspan>5000</tspan></text>
<text transform="translate(316.00,471.50) translate(0.00,0) scale(1.1059,1)" font-family="Liberation Serif, serif" font-size="12.8" font-weight="bold" fill="#111" xml:space="preserve"><tspan>Wavenumber (cm</tspan><tspan font-size="7.94" dy="-5.12">-1</tspan><tspan dy="5.12">)</tspan></text>
<text transform="translate(271.50,370.00) rotate(-90) translate(-46.50,0) scale(1.1076,1)" font-family="Liberation Serif, serif" font-size="12.2" font-weight="bold" fill="#111" xml:space="preserve"><tspan>Bias Voltage (V)</tspan></text>
<rect x="475.7" y="301.4" width="16.1" height="137.60000000000002" fill="url(#cbd)"/>
<text transform="translate(467.00,294.40) translate(0.00,0) scale(1.1177,1)" font-family="Liberation Sans, sans-serif" font-size="8.6" font-weight="bold" fill="#222" xml:space="preserve"><tspan>R (A/W)</tspan></text>
<path d="M491.8,322 h2.6" stroke="#222" stroke-width="0.8"/>
<text transform="translate(497.00,325.20) translate(0.00,0)" font-family="Liberation Sans, sans-serif" font-size="8.6" font-weight="bold" fill="#222" xml:space="preserve"><tspan>10</tspan><tspan font-size="5.33" dy="-3.44">0</tspan></text>
<path d="M491.8,361.4 h2.6" stroke="#222" stroke-width="0.8"/>
<text transform="translate(497.00,364.60) translate(0.00,0)" font-family="Liberation Sans, sans-serif" font-size="8.6" font-weight="bold" fill="#222" xml:space="preserve"><tspan>10</tspan><tspan font-size="5.33" dy="-3.44">-1</tspan></text>
<path d="M491.8,401.4 h2.6" stroke="#222" stroke-width="0.8"/>
<text transform="translate(497.00,404.60) translate(0.00,0)" font-family="Liberation Sans, sans-serif" font-size="8.6" font-weight="bold" fill="#222" xml:space="preserve"><tspan>10</tspan><tspan font-size="5.33" dy="-3.44">-2</tspan></text>
<rect x="417.7" y="312.6" width="28.5" height="22" fill="none" stroke="#fff" stroke-width="0.9"/>
<text transform="translate(432.20,323.00) translate(-6.75,0) scale(1.0357,1)" font-family="Liberation Sans, sans-serif" font-size="7.8" font-weight="bold" fill="#1a2418" xml:space="preserve"><tspan>200</tspan></text>
<text transform="translate(432.20,331.20) translate(-6.75,0) scale(0.9427,1)" font-family="Liberation Sans, sans-serif" font-size="7.8" font-weight="bold" fill="#1a2418" xml:space="preserve"><tspan>THz</tspan></text>
<path d="M445.2,297.6 L440.6,311.8" stroke="#fff" stroke-width="1"/>
<text transform="translate(300.90,440.60) translate(0.00,0) scale(1.1506,1)" font-family="Liberation Sans, sans-serif" font-size="8.0" font-weight="bold" fill="#fff" xml:space="preserve"><tspan>4.2 K</tspan></text>
<text transform="translate(302.00,427.20) translate(0.00,0)" font-family="Liberation Sans, sans-serif" font-size="11.4" font-weight="bold" fill="#fff" xml:space="preserve"><tspan>I</tspan></text><text transform="translate(305.70,431.00) translate(0.00,0)" font-family="Liberation Sans, sans-serif" font-size="7.4" font-weight="bold" fill="#fff" xml:space="preserve"><tspan>F</tspan></text>
<path d="M306.3,417 L311.3,402.5" stroke="#fff" stroke-width="1.3"/>
<text transform="translate(437.10,431.40) translate(0.00,0)" font-family="Liberation Sans, sans-serif" font-size="11.4" font-weight="bold" fill="#fff" xml:space="preserve"><tspan>I</tspan></text><text transform="translate(440.60,435.30) translate(0.00,0)" font-family="Liberation Sans, sans-serif" font-size="7.4" font-weight="bold" fill="#fff" xml:space="preserve"><tspan>R</tspan></text>
<path d="M436.3,418.8 L428.2,414.3" stroke="#fff" stroke-width="1.2"/><polygon points="425.6,412.9 429.2,412.8 427.5,414.0 427.5,416.0" fill="#fff"/>
</svg></body></html>
